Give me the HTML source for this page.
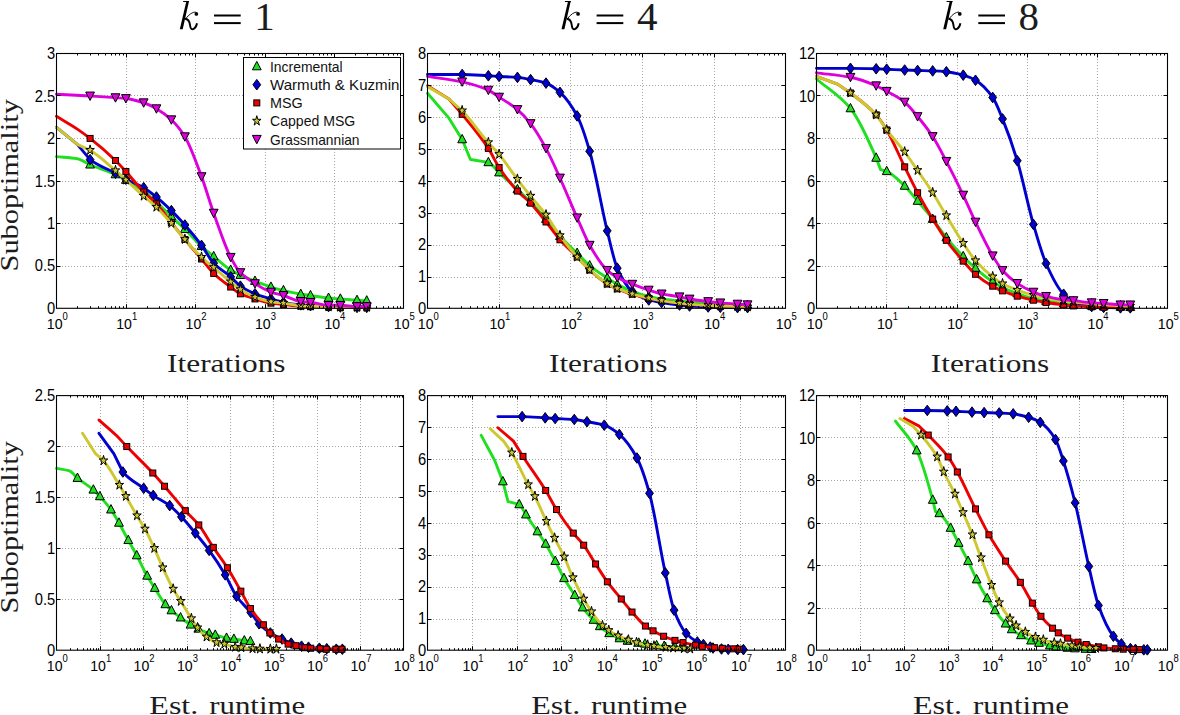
<!DOCTYPE html><html><head><meta charset="utf-8"><style>html,body{margin:0;padding:0;background:#fff;}svg{display:block;}</style></head><body>
<svg width="1180" height="715" viewBox="0 0 1180 715">
<rect width="1180" height="715" fill="#fff"/>
<path d="M126.50,53.00 V308.25 M195.50,53.00 V308.25 M265.50,53.00 V308.25 M334.50,53.00 V308.25 M56.00,266.50 H403.50 M56.00,223.50 H403.50 M56.00,181.50 H403.50 M56.00,138.50 H403.50 M56.00,95.50 H403.50" stroke="#a6a6a6" stroke-width="1" stroke-dasharray="1 2" fill="none"/>
<path d="M56.50,156.67 C63.44,157.38 70.38,157.57 77.32,158.80 C81.58,159.55 85.83,162.93 90.09,164.74 C98.56,168.34 107.02,170.65 115.49,174.51 C118.96,176.09 122.43,178.05 125.90,180.03 C131.82,183.39 137.74,186.74 143.67,191.06 C147.92,194.17 152.18,198.22 156.44,202.10 C161.41,206.64 166.38,211.80 171.36,216.54 C175.87,220.84 180.38,224.87 184.89,229.28 C190.44,234.70 195.99,241.18 201.55,246.26 C205.59,249.97 209.64,253.13 213.69,256.45 C219.36,261.10 225.03,266.52 230.69,270.04 C233.93,272.05 237.17,273.63 240.41,275.13 C245.27,277.38 250.13,279.18 254.98,281.08 C260.30,283.15 265.63,285.36 270.95,287.02 C275.11,288.32 279.27,289.40 283.44,290.42 C289.22,291.83 295.00,293.31 300.79,294.24 C304.03,294.76 307.27,295.07 310.50,295.51 C316.52,296.33 322.53,297.50 328.55,298.06 C332.48,298.43 336.41,298.61 340.35,298.91 C345.90,299.33 351.45,299.92 357.00,300.27 C360.24,300.47 363.48,300.61 366.72,300.78" stroke="#1ee01e" stroke-width="2.90" fill="none" stroke-linejoin="round" stroke-linecap="round"/>
<path d="M90.09,159.64 L94.49,168.04 L85.69,168.04 Z" stroke="#000" stroke-width="1" fill="#1ee01e"/><path d="M115.49,169.41 L119.89,177.81 L111.09,177.81 Z" stroke="#000" stroke-width="1" fill="#1ee01e"/><path d="M125.90,174.93 L130.30,183.33 L121.50,183.33 Z" stroke="#000" stroke-width="1" fill="#1ee01e"/><path d="M143.67,185.97 L148.07,194.37 L139.27,194.37 Z" stroke="#000" stroke-width="1" fill="#1ee01e"/><path d="M156.44,197.00 L160.84,205.40 L152.04,205.40 Z" stroke="#000" stroke-width="1" fill="#1ee01e"/><path d="M171.36,211.44 L175.76,219.84 L166.96,219.84 Z" stroke="#000" stroke-width="1" fill="#1ee01e"/><path d="M184.89,224.18 L189.29,232.58 L180.49,232.58 Z" stroke="#000" stroke-width="1" fill="#1ee01e"/><path d="M201.55,241.16 L205.95,249.56 L197.15,249.56 Z" stroke="#000" stroke-width="1" fill="#1ee01e"/><path d="M213.69,251.35 L218.09,259.75 L209.29,259.75 Z" stroke="#000" stroke-width="1" fill="#1ee01e"/><path d="M230.69,264.94 L235.09,273.34 L226.29,273.34 Z" stroke="#000" stroke-width="1" fill="#1ee01e"/><path d="M240.41,270.03 L244.81,278.43 L236.01,278.43 Z" stroke="#000" stroke-width="1" fill="#1ee01e"/><path d="M254.98,275.98 L259.38,284.38 L250.58,284.38 Z" stroke="#000" stroke-width="1" fill="#1ee01e"/><path d="M270.95,281.92 L275.35,290.32 L266.55,290.32 Z" stroke="#000" stroke-width="1" fill="#1ee01e"/><path d="M283.44,285.32 L287.84,293.72 L279.04,293.72 Z" stroke="#000" stroke-width="1" fill="#1ee01e"/><path d="M300.79,289.14 L305.19,297.54 L296.39,297.54 Z" stroke="#000" stroke-width="1" fill="#1ee01e"/><path d="M310.50,290.41 L314.90,298.81 L306.10,298.81 Z" stroke="#000" stroke-width="1" fill="#1ee01e"/><path d="M328.55,292.96 L332.95,301.36 L324.15,301.36 Z" stroke="#000" stroke-width="1" fill="#1ee01e"/><path d="M340.35,293.81 L344.75,302.21 L335.95,302.21 Z" stroke="#000" stroke-width="1" fill="#1ee01e"/><path d="M357.00,295.17 L361.40,303.57 L352.60,303.57 Z" stroke="#000" stroke-width="1" fill="#1ee01e"/><path d="M366.72,295.68 L371.12,304.08 L362.32,304.08 Z" stroke="#000" stroke-width="1" fill="#1ee01e"/>
<path d="M56.50,127.38 L77.32,144.36 L90.09,159.65 C98.56,166.18 107.02,168.53 115.49,173.23 C118.96,175.16 122.43,177.36 125.90,179.18 C131.82,182.28 137.74,184.20 143.67,187.67 C147.92,190.16 152.18,193.57 156.44,197.01 C161.41,201.03 166.38,205.70 171.36,210.60 C175.87,215.03 180.38,219.90 184.89,225.03 C190.44,231.34 195.99,237.97 201.55,245.41 C205.59,250.84 209.64,258.98 213.69,263.24 C219.36,269.21 225.03,271.84 230.69,276.83 C233.93,279.68 237.17,283.93 240.41,286.17 C245.27,289.53 250.13,291.88 254.98,293.81 C260.30,295.93 265.63,297.35 270.95,298.91 C275.11,300.13 279.27,301.50 283.44,302.31 C289.22,303.43 295.00,304.23 300.79,304.85 C304.03,305.20 307.27,305.50 310.50,305.70 C316.52,306.08 322.53,306.31 328.55,306.55 C332.48,306.71 336.41,306.86 340.35,306.98 C345.90,307.14 351.45,307.40 357.00,307.40 C360.24,307.40 363.48,307.40 366.72,307.40" stroke="#0000d0" stroke-width="2.90" fill="none" stroke-linejoin="round" stroke-linecap="round"/>
<path d="M90.09,154.35 L93.99,159.65 L90.09,164.95 L86.19,159.65 Z" stroke="#000" stroke-width="1" fill="#0000d0"/><path d="M115.49,167.93 L119.39,173.23 L115.49,178.53 L111.59,173.23 Z" stroke="#000" stroke-width="1" fill="#0000d0"/><path d="M125.90,173.88 L129.80,179.18 L125.90,184.48 L122.00,179.18 Z" stroke="#000" stroke-width="1" fill="#0000d0"/><path d="M143.67,182.37 L147.57,187.67 L143.67,192.97 L139.77,187.67 Z" stroke="#000" stroke-width="1" fill="#0000d0"/><path d="M156.44,191.71 L160.34,197.01 L156.44,202.31 L152.54,197.01 Z" stroke="#000" stroke-width="1" fill="#0000d0"/><path d="M171.36,205.30 L175.26,210.60 L171.36,215.90 L167.46,210.60 Z" stroke="#000" stroke-width="1" fill="#0000d0"/><path d="M184.89,219.73 L188.79,225.03 L184.89,230.33 L180.99,225.03 Z" stroke="#000" stroke-width="1" fill="#0000d0"/><path d="M201.55,240.11 L205.45,245.41 L201.55,250.71 L197.65,245.41 Z" stroke="#000" stroke-width="1" fill="#0000d0"/><path d="M213.69,257.94 L217.59,263.24 L213.69,268.54 L209.79,263.24 Z" stroke="#000" stroke-width="1" fill="#0000d0"/><path d="M230.69,271.53 L234.59,276.83 L230.69,282.13 L226.79,276.83 Z" stroke="#000" stroke-width="1" fill="#0000d0"/><path d="M240.41,280.87 L244.31,286.17 L240.41,291.47 L236.51,286.17 Z" stroke="#000" stroke-width="1" fill="#0000d0"/><path d="M254.98,288.51 L258.88,293.81 L254.98,299.11 L251.08,293.81 Z" stroke="#000" stroke-width="1" fill="#0000d0"/><path d="M270.95,293.61 L274.85,298.91 L270.95,304.21 L267.05,298.91 Z" stroke="#000" stroke-width="1" fill="#0000d0"/><path d="M283.44,297.01 L287.34,302.31 L283.44,307.61 L279.54,302.31 Z" stroke="#000" stroke-width="1" fill="#0000d0"/><path d="M300.79,299.55 L304.69,304.85 L300.79,310.15 L296.89,304.85 Z" stroke="#000" stroke-width="1" fill="#0000d0"/><path d="M310.50,300.40 L314.40,305.70 L310.50,311.00 L306.60,305.70 Z" stroke="#000" stroke-width="1" fill="#0000d0"/><path d="M328.55,301.25 L332.45,306.55 L328.55,311.85 L324.65,306.55 Z" stroke="#000" stroke-width="1" fill="#0000d0"/><path d="M340.35,301.68 L344.25,306.98 L340.35,312.28 L336.45,306.98 Z" stroke="#000" stroke-width="1" fill="#0000d0"/><path d="M357.00,302.10 L360.90,307.40 L357.00,312.70 L353.10,307.40 Z" stroke="#000" stroke-width="1" fill="#0000d0"/><path d="M366.72,302.10 L370.62,307.40 L366.72,312.70 L362.82,307.40 Z" stroke="#000" stroke-width="1" fill="#0000d0"/>
<path d="M56.50,116.34 C63.44,120.58 70.38,124.42 77.32,129.08 C81.58,131.93 85.83,135.07 90.09,138.42 C98.56,145.08 107.02,152.29 115.49,160.50 C118.96,163.86 122.43,167.72 125.90,171.53 C131.82,178.04 137.74,185.86 143.67,191.91 C147.92,196.26 152.18,199.27 156.44,203.80 C161.41,209.09 166.38,216.25 171.36,222.48 C175.87,228.14 180.38,233.99 184.89,239.47 C190.44,246.21 195.99,252.44 201.55,259.00 C205.59,263.78 209.64,269.52 213.69,273.43 C219.36,278.91 225.03,282.82 230.69,287.02 C233.93,289.42 237.17,292.27 240.41,293.81 C245.27,296.13 250.13,297.44 254.98,298.91 C260.30,300.52 265.63,302.38 270.95,303.15 C275.11,303.76 279.27,304.01 283.44,304.43 C289.22,305.01 295.00,305.79 300.79,306.13 C304.03,306.32 307.27,306.45 310.50,306.55 C316.52,306.74 322.53,306.80 328.55,306.98 C332.48,307.09 336.41,307.40 340.35,307.40 C345.90,307.40 351.45,307.40 357.00,307.40 C360.24,307.40 363.48,307.40 366.72,307.40" stroke="#ee0000" stroke-width="2.90" fill="none" stroke-linejoin="round" stroke-linecap="round"/>
<rect x="87.09" y="135.42" width="6.00" height="6.00" stroke="#000" stroke-width="1" fill="#ee0000"/><rect x="112.49" y="157.50" width="6.00" height="6.00" stroke="#000" stroke-width="1" fill="#ee0000"/><rect x="122.90" y="168.53" width="6.00" height="6.00" stroke="#000" stroke-width="1" fill="#ee0000"/><rect x="140.67" y="188.91" width="6.00" height="6.00" stroke="#000" stroke-width="1" fill="#ee0000"/><rect x="153.44" y="200.80" width="6.00" height="6.00" stroke="#000" stroke-width="1" fill="#ee0000"/><rect x="168.36" y="219.48" width="6.00" height="6.00" stroke="#000" stroke-width="1" fill="#ee0000"/><rect x="181.89" y="236.47" width="6.00" height="6.00" stroke="#000" stroke-width="1" fill="#ee0000"/><rect x="198.55" y="256.00" width="6.00" height="6.00" stroke="#000" stroke-width="1" fill="#ee0000"/><rect x="210.69" y="270.43" width="6.00" height="6.00" stroke="#000" stroke-width="1" fill="#ee0000"/><rect x="227.69" y="284.02" width="6.00" height="6.00" stroke="#000" stroke-width="1" fill="#ee0000"/><rect x="237.41" y="290.81" width="6.00" height="6.00" stroke="#000" stroke-width="1" fill="#ee0000"/><rect x="251.98" y="295.91" width="6.00" height="6.00" stroke="#000" stroke-width="1" fill="#ee0000"/><rect x="267.95" y="300.15" width="6.00" height="6.00" stroke="#000" stroke-width="1" fill="#ee0000"/><rect x="280.44" y="301.43" width="6.00" height="6.00" stroke="#000" stroke-width="1" fill="#ee0000"/><rect x="297.79" y="303.13" width="6.00" height="6.00" stroke="#000" stroke-width="1" fill="#ee0000"/><rect x="307.50" y="303.55" width="6.00" height="6.00" stroke="#000" stroke-width="1" fill="#ee0000"/><rect x="325.55" y="303.98" width="6.00" height="6.00" stroke="#000" stroke-width="1" fill="#ee0000"/><rect x="337.35" y="304.40" width="6.00" height="6.00" stroke="#000" stroke-width="1" fill="#ee0000"/><rect x="354.00" y="304.40" width="6.00" height="6.00" stroke="#000" stroke-width="1" fill="#ee0000"/><rect x="363.72" y="304.40" width="6.00" height="6.00" stroke="#000" stroke-width="1" fill="#ee0000"/>
<path d="M56.50,127.38 L77.32,144.36 L90.09,150.30 C98.56,155.15 107.02,163.46 115.49,170.68 C118.96,173.65 122.43,176.90 125.90,180.03 C131.82,185.37 137.74,190.92 143.67,196.16 C147.92,199.93 152.18,203.12 156.44,207.20 C161.41,211.96 166.38,217.69 171.36,223.33 C175.87,228.45 180.38,234.37 184.89,239.47 C190.44,245.74 195.99,252.11 201.55,257.30 C205.59,261.08 209.64,264.07 213.69,267.49 C219.36,272.27 225.03,277.31 230.69,281.93 C233.93,284.56 237.17,287.50 240.41,289.57 C245.27,292.67 250.13,295.38 254.98,297.21 C260.30,299.22 265.63,301.09 270.95,301.88 C275.11,302.50 279.27,302.66 283.44,303.15 C289.22,303.84 295.00,305.33 300.79,305.70 C304.03,305.91 307.27,305.98 310.50,306.13 C316.52,306.40 322.53,306.80 328.55,306.98 C332.48,307.09 336.41,307.18 340.35,307.23 C345.90,307.31 351.45,307.40 357.00,307.40 C360.24,307.40 363.48,307.40 366.72,307.40" stroke="#cdc830" stroke-width="2.90" fill="none" stroke-linejoin="round" stroke-linecap="round"/>
<polygon points="90.09,144.91 91.08,148.53 94.34,148.50 91.68,150.71 92.72,154.31 90.09,152.05 87.46,154.31 88.49,150.71 85.84,148.50 89.10,148.53" stroke="#000" stroke-width="1" fill="#cdc830"/><polygon points="115.49,165.28 116.48,168.91 119.74,168.88 117.08,171.09 118.12,174.69 115.49,172.43 112.86,174.69 113.90,171.09 111.24,168.88 114.50,168.91" stroke="#000" stroke-width="1" fill="#cdc830"/><polygon points="125.90,174.63 126.89,178.25 130.15,178.22 127.49,180.43 128.53,184.03 125.90,181.78 123.27,184.03 124.31,180.43 121.65,178.22 124.91,178.25" stroke="#000" stroke-width="1" fill="#cdc830"/><polygon points="143.67,190.76 144.65,194.38 147.92,194.35 145.26,196.56 146.29,200.17 143.67,197.91 141.04,200.17 142.07,196.56 139.41,194.35 142.68,194.38" stroke="#000" stroke-width="1" fill="#cdc830"/><polygon points="156.44,201.80 157.42,205.42 160.69,205.39 158.03,207.60 159.06,211.21 156.44,208.95 153.81,211.21 154.84,207.60 152.18,205.39 155.45,205.42" stroke="#000" stroke-width="1" fill="#cdc830"/><polygon points="171.36,217.93 172.34,221.56 175.61,221.53 172.95,223.74 173.99,227.34 171.36,225.08 168.73,227.34 169.76,223.74 167.10,221.53 170.37,221.56" stroke="#000" stroke-width="1" fill="#cdc830"/><polygon points="184.89,234.07 185.88,237.69 189.14,237.66 186.48,239.87 187.52,243.47 184.89,241.22 182.26,243.47 183.30,239.87 180.64,237.66 183.90,237.69" stroke="#000" stroke-width="1" fill="#cdc830"/><polygon points="201.55,251.90 202.53,255.52 205.80,255.49 203.14,257.70 204.17,261.31 201.55,259.05 198.92,261.31 199.95,257.70 197.29,255.49 200.56,255.52" stroke="#000" stroke-width="1" fill="#cdc830"/><polygon points="213.69,262.09 214.68,265.71 217.94,265.68 215.29,267.89 216.32,271.50 213.69,269.24 211.06,271.50 212.10,267.89 209.44,265.68 212.71,265.71" stroke="#000" stroke-width="1" fill="#cdc830"/><polygon points="230.69,276.53 231.68,280.15 234.95,280.12 232.29,282.33 233.32,285.93 230.69,283.68 228.07,285.93 229.10,282.33 226.44,280.12 229.71,280.15" stroke="#000" stroke-width="1" fill="#cdc830"/><polygon points="240.41,284.17 241.40,287.79 244.66,287.76 242.00,289.97 243.04,293.58 240.41,291.32 237.78,293.58 238.82,289.97 236.16,287.76 239.42,287.79" stroke="#000" stroke-width="1" fill="#cdc830"/><polygon points="254.98,291.81 255.97,295.43 259.24,295.40 256.58,297.61 257.61,301.22 254.98,298.96 252.36,301.22 253.39,297.61 250.73,295.40 254.00,295.43" stroke="#000" stroke-width="1" fill="#cdc830"/><polygon points="270.95,296.48 271.93,300.10 275.20,300.07 272.54,302.28 273.57,305.89 270.95,303.63 268.32,305.89 269.35,302.28 266.69,300.07 269.96,300.10" stroke="#000" stroke-width="1" fill="#cdc830"/><polygon points="283.44,297.75 284.42,301.38 287.69,301.35 285.03,303.56 286.07,307.16 283.44,304.90 280.81,307.16 281.84,303.56 279.18,301.35 282.45,301.38" stroke="#000" stroke-width="1" fill="#cdc830"/><polygon points="300.79,300.30 301.77,303.92 305.04,303.90 302.38,306.11 303.42,309.71 300.79,307.45 298.16,309.71 299.19,306.11 296.53,303.90 299.80,303.92" stroke="#000" stroke-width="1" fill="#cdc830"/><polygon points="310.50,300.73 311.49,304.35 314.76,304.32 312.10,306.53 313.13,310.13 310.50,307.88 307.88,310.13 308.91,306.53 306.25,304.32 309.52,304.35" stroke="#000" stroke-width="1" fill="#cdc830"/><polygon points="328.55,301.58 329.53,305.20 332.80,305.17 330.14,307.38 331.18,310.98 328.55,308.73 325.92,310.98 326.95,307.38 324.29,305.17 327.56,305.20" stroke="#000" stroke-width="1" fill="#cdc830"/><polygon points="340.35,301.83 341.33,305.45 344.60,305.42 341.94,307.63 342.97,311.24 340.35,308.98 337.72,311.24 338.75,307.63 336.09,305.42 339.36,305.45" stroke="#000" stroke-width="1" fill="#cdc830"/><polygon points="357.00,302.00 357.99,305.62 361.26,305.59 358.60,307.80 359.63,311.41 357.00,309.15 354.37,311.41 355.41,307.80 352.75,305.59 356.02,305.62" stroke="#000" stroke-width="1" fill="#cdc830"/><polygon points="366.72,302.00 367.70,305.62 370.97,305.59 368.31,307.80 369.35,311.41 366.72,309.15 364.09,311.41 365.12,307.80 362.46,305.59 365.73,305.62" stroke="#000" stroke-width="1" fill="#cdc830"/>
<path d="M56.50,94.26 C67.70,94.83 78.89,95.31 90.09,95.96 C98.56,96.45 107.02,97.03 115.49,97.66 C118.96,97.92 122.43,98.10 125.90,98.51 C131.82,99.20 137.74,100.85 143.67,102.75 C147.92,104.12 152.18,106.28 156.44,108.70 C161.41,111.52 166.38,115.09 171.36,119.73 C175.87,123.95 180.38,129.37 184.89,136.72 C190.44,145.77 195.99,161.73 201.55,176.63 C205.59,187.49 209.64,201.82 213.69,213.14 C219.36,229.00 225.03,246.44 230.69,257.30 C233.93,263.51 237.17,269.19 240.41,272.58 C245.27,277.67 250.13,280.58 254.98,283.62 C260.30,286.96 265.63,290.23 270.95,292.12 C275.11,293.59 279.27,294.26 283.44,295.51 C289.22,297.26 295.00,300.69 300.79,301.46 C304.03,301.88 307.27,301.95 310.50,302.31 C316.52,302.97 322.53,305.28 328.55,305.28 C332.48,305.28 336.41,305.28 340.35,305.28 C345.90,305.28 351.45,306.55 357.00,306.55 C360.24,306.55 363.48,306.55 366.72,306.55" stroke="#dd00dd" stroke-width="2.90" fill="none" stroke-linejoin="round" stroke-linecap="round"/>
<path d="M90.09,100.46 L94.49,92.06 L85.69,92.06 Z" stroke="#000" stroke-width="1" fill="#dd00dd"/><path d="M115.49,102.16 L119.89,93.76 L111.09,93.76 Z" stroke="#000" stroke-width="1" fill="#dd00dd"/><path d="M125.90,103.01 L130.30,94.61 L121.50,94.61 Z" stroke="#000" stroke-width="1" fill="#dd00dd"/><path d="M143.67,107.25 L148.07,98.85 L139.27,98.85 Z" stroke="#000" stroke-width="1" fill="#dd00dd"/><path d="M156.44,113.20 L160.84,104.80 L152.04,104.80 Z" stroke="#000" stroke-width="1" fill="#dd00dd"/><path d="M171.36,124.23 L175.76,115.83 L166.96,115.83 Z" stroke="#000" stroke-width="1" fill="#dd00dd"/><path d="M184.89,141.22 L189.29,132.82 L180.49,132.82 Z" stroke="#000" stroke-width="1" fill="#dd00dd"/><path d="M201.55,181.13 L205.95,172.73 L197.15,172.73 Z" stroke="#000" stroke-width="1" fill="#dd00dd"/><path d="M213.69,217.64 L218.09,209.24 L209.29,209.24 Z" stroke="#000" stroke-width="1" fill="#dd00dd"/><path d="M230.69,261.80 L235.09,253.40 L226.29,253.40 Z" stroke="#000" stroke-width="1" fill="#dd00dd"/><path d="M240.41,277.08 L244.81,268.69 L236.01,268.69 Z" stroke="#000" stroke-width="1" fill="#dd00dd"/><path d="M254.98,288.12 L259.38,279.72 L250.58,279.72 Z" stroke="#000" stroke-width="1" fill="#dd00dd"/><path d="M270.95,296.62 L275.35,288.22 L266.55,288.22 Z" stroke="#000" stroke-width="1" fill="#dd00dd"/><path d="M283.44,300.01 L287.84,291.61 L279.04,291.61 Z" stroke="#000" stroke-width="1" fill="#dd00dd"/><path d="M300.79,305.96 L305.19,297.56 L296.39,297.56 Z" stroke="#000" stroke-width="1" fill="#dd00dd"/><path d="M310.50,306.81 L314.90,298.41 L306.10,298.41 Z" stroke="#000" stroke-width="1" fill="#dd00dd"/><path d="M328.55,309.78 L332.95,301.38 L324.15,301.38 Z" stroke="#000" stroke-width="1" fill="#dd00dd"/><path d="M340.35,309.78 L344.75,301.38 L335.95,301.38 Z" stroke="#000" stroke-width="1" fill="#dd00dd"/><path d="M357.00,311.05 L361.40,302.65 L352.60,302.65 Z" stroke="#000" stroke-width="1" fill="#dd00dd"/><path d="M366.72,311.05 L371.12,302.65 L362.32,302.65 Z" stroke="#000" stroke-width="1" fill="#dd00dd"/>
<path d="M77.5,308.2 v-2 M77.5,53.5 v2 M90.5,308.2 v-2 M90.5,53.5 v2 M98.5,308.2 v-2 M98.5,53.5 v2 M105.5,308.2 v-2 M105.5,53.5 v2 M111.5,308.2 v-2 M111.5,53.5 v2 M115.5,308.2 v-2 M115.5,53.5 v2 M119.5,308.2 v-2 M119.5,53.5 v2 M123.5,308.2 v-2 M123.5,53.5 v2 M126.5,308.2 v-4 M126.5,53.5 v4 M147.5,308.2 v-2 M147.5,53.5 v2 M159.5,308.2 v-2 M159.5,53.5 v2 M168.5,308.2 v-2 M168.5,53.5 v2 M174.5,308.2 v-2 M174.5,53.5 v2 M180.5,308.2 v-2 M180.5,53.5 v2 M185.5,308.2 v-2 M185.5,53.5 v2 M189.5,308.2 v-2 M189.5,53.5 v2 M192.5,308.2 v-2 M192.5,53.5 v2 M195.5,308.2 v-4 M195.5,53.5 v4 M216.5,308.2 v-2 M216.5,53.5 v2 M228.5,308.2 v-2 M228.5,53.5 v2 M237.5,308.2 v-2 M237.5,53.5 v2 M244.5,308.2 v-2 M244.5,53.5 v2 M249.5,308.2 v-2 M249.5,53.5 v2 M254.5,308.2 v-2 M254.5,53.5 v2 M258.5,308.2 v-2 M258.5,53.5 v2 M262.5,308.2 v-2 M262.5,53.5 v2 M265.5,308.2 v-4 M265.5,53.5 v4 M286.5,308.2 v-2 M286.5,53.5 v2 M298.5,308.2 v-2 M298.5,53.5 v2 M306.5,308.2 v-2 M306.5,53.5 v2 M313.5,308.2 v-2 M313.5,53.5 v2 M319.5,308.2 v-2 M319.5,53.5 v2 M323.5,308.2 v-2 M323.5,53.5 v2 M327.5,308.2 v-2 M327.5,53.5 v2 M331.5,308.2 v-2 M331.5,53.5 v2 M334.5,308.2 v-4 M334.5,53.5 v4 M355.5,308.2 v-2 M355.5,53.5 v2 M367.5,308.2 v-2 M367.5,53.5 v2 M376.5,308.2 v-2 M376.5,53.5 v2 M383.5,308.2 v-2 M383.5,53.5 v2 M388.5,308.2 v-2 M388.5,53.5 v2 M393.5,308.2 v-2 M393.5,53.5 v2 M397.5,308.2 v-2 M397.5,53.5 v2 M400.5,308.2 v-2 M400.5,53.5 v2 M56.5,266.5 h4 M403.5,266.5 h-4 M56.5,223.5 h4 M403.5,223.5 h-4 M56.5,181.5 h4 M403.5,181.5 h-4 M56.5,138.5 h4 M403.5,138.5 h-4 M56.5,95.5 h4 M403.5,95.5 h-4" stroke="#000" stroke-width="1" fill="none"/>
<rect x="56.5" y="53.5" width="347.0" height="254.8" stroke="#000" stroke-width="1.1" fill="none"/>
<g font-family="Liberation Sans, sans-serif" font-size="15.6" fill="#000"><text transform="translate(55.30,313.95) scale(0.92,1)" text-anchor="end" font-size="16">0</text><text transform="translate(55.30,271.49) scale(0.92,1)" text-anchor="end" font-size="16">0.5</text><text transform="translate(55.30,229.03) scale(0.92,1)" text-anchor="end" font-size="16">1</text><text transform="translate(55.30,186.57) scale(0.92,1)" text-anchor="end" font-size="16">1.5</text><text transform="translate(55.30,144.12) scale(0.92,1)" text-anchor="end" font-size="16">2</text><text transform="translate(55.30,101.66) scale(0.92,1)" text-anchor="end" font-size="16">2.5</text><text transform="translate(55.30,59.20) scale(0.92,1)" text-anchor="end" font-size="16">3</text><text transform="translate(57.30,328.85) scale(0.93,1)" text-anchor="middle" font-size="15.2">10<tspan dy="-8.6" dx="0" font-size="10.2">0</tspan></text><text transform="translate(126.70,328.85) scale(0.93,1)" text-anchor="middle" font-size="15.2">10<tspan dy="-8.6" dx="0" font-size="10.2">1</tspan></text><text transform="translate(196.10,328.85) scale(0.93,1)" text-anchor="middle" font-size="15.2">10<tspan dy="-8.6" dx="0" font-size="10.2">2</tspan></text><text transform="translate(265.50,328.85) scale(0.93,1)" text-anchor="middle" font-size="15.2">10<tspan dy="-8.6" dx="0" font-size="10.2">3</tspan></text><text transform="translate(334.90,328.85) scale(0.93,1)" text-anchor="middle" font-size="15.2">10<tspan dy="-8.6" dx="0" font-size="10.2">4</tspan></text><text transform="translate(404.30,328.85) scale(0.93,1)" text-anchor="middle" font-size="15.2">10<tspan dy="-8.6" dx="0" font-size="10.2">5</tspan></text></g>
<path d="M499.50,53.00 V308.25 M570.50,53.00 V308.25 M642.50,53.00 V308.25 M714.50,53.00 V308.25 M427.00,277.50 H785.50 M427.00,245.50 H785.50 M427.00,213.50 H785.50 M427.00,181.50 H785.50 M427.00,149.50 H785.50 M427.00,117.50 H785.50 M427.00,85.50 H785.50" stroke="#a6a6a6" stroke-width="1" stroke-dasharray="1 2" fill="none"/>
<path d="M427.50,93.30 L448.98,118.14 L462.15,139.48 L470.46,159.54 L488.36,162.41 C491.94,163.45 495.52,169.25 499.10,172.60 C505.21,178.31 511.32,183.78 517.43,189.47 C521.82,193.57 526.21,197.41 530.60,201.89 C535.74,207.13 540.87,213.07 546.00,219.09 C550.65,224.54 555.31,231.18 559.96,236.28 C565.69,242.57 571.42,247.51 577.14,253.16 C581.32,257.28 585.50,262.10 589.67,265.58 C595.52,270.45 601.37,274.10 607.22,278.00 C610.56,280.23 613.90,282.55 617.24,284.37 C622.25,287.09 627.26,289.50 632.28,291.37 C637.77,293.42 643.25,295.16 648.74,296.47 C653.04,297.49 657.34,298.41 661.63,299.02 C667.60,299.86 673.57,300.33 679.53,300.93 C682.87,301.26 686.21,301.58 689.56,301.88 C695.76,302.44 701.97,303.08 708.17,303.47 C712.23,303.73 716.29,303.89 720.34,304.11 C726.07,304.42 731.80,304.84 737.53,305.07 C740.87,305.20 744.21,305.28 747.55,305.38" stroke="#1ee01e" stroke-width="2.90" fill="none" stroke-linejoin="round" stroke-linecap="round"/>
<path d="M462.15,134.38 L466.55,142.78 L457.75,142.78 Z" stroke="#000" stroke-width="1" fill="#1ee01e"/><path d="M488.36,157.31 L492.76,165.71 L483.96,165.71 Z" stroke="#000" stroke-width="1" fill="#1ee01e"/><path d="M499.10,167.50 L503.50,175.90 L494.70,175.90 Z" stroke="#000" stroke-width="1" fill="#1ee01e"/><path d="M517.43,184.37 L521.83,192.77 L513.03,192.77 Z" stroke="#000" stroke-width="1" fill="#1ee01e"/><path d="M530.60,196.79 L535.00,205.19 L526.20,205.19 Z" stroke="#000" stroke-width="1" fill="#1ee01e"/><path d="M546.00,213.99 L550.40,222.39 L541.60,222.39 Z" stroke="#000" stroke-width="1" fill="#1ee01e"/><path d="M559.96,231.18 L564.36,239.58 L555.56,239.58 Z" stroke="#000" stroke-width="1" fill="#1ee01e"/><path d="M577.14,248.06 L581.54,256.46 L572.74,256.46 Z" stroke="#000" stroke-width="1" fill="#1ee01e"/><path d="M589.67,260.48 L594.07,268.88 L585.27,268.88 Z" stroke="#000" stroke-width="1" fill="#1ee01e"/><path d="M607.22,272.90 L611.62,281.30 L602.82,281.30 Z" stroke="#000" stroke-width="1" fill="#1ee01e"/><path d="M617.24,279.27 L621.64,287.67 L612.84,287.67 Z" stroke="#000" stroke-width="1" fill="#1ee01e"/><path d="M632.28,286.27 L636.68,294.67 L627.88,294.67 Z" stroke="#000" stroke-width="1" fill="#1ee01e"/><path d="M648.74,291.37 L653.14,299.77 L644.34,299.77 Z" stroke="#000" stroke-width="1" fill="#1ee01e"/><path d="M661.63,293.92 L666.03,302.32 L657.23,302.32 Z" stroke="#000" stroke-width="1" fill="#1ee01e"/><path d="M679.53,295.83 L683.93,304.23 L675.13,304.23 Z" stroke="#000" stroke-width="1" fill="#1ee01e"/><path d="M689.56,296.78 L693.96,305.18 L685.16,305.18 Z" stroke="#000" stroke-width="1" fill="#1ee01e"/><path d="M708.17,298.37 L712.57,306.77 L703.77,306.77 Z" stroke="#000" stroke-width="1" fill="#1ee01e"/><path d="M720.34,299.01 L724.74,307.41 L715.94,307.41 Z" stroke="#000" stroke-width="1" fill="#1ee01e"/><path d="M737.53,299.97 L741.93,308.37 L733.13,308.37 Z" stroke="#000" stroke-width="1" fill="#1ee01e"/><path d="M747.55,300.28 L751.95,308.68 L743.15,308.68 Z" stroke="#000" stroke-width="1" fill="#1ee01e"/>
<path d="M427.50,74.52 C439.05,74.52 450.60,74.52 462.15,74.52 C470.89,74.52 479.62,75.32 488.36,75.79 C491.94,75.98 495.52,76.23 499.10,76.43 C505.21,76.77 511.32,76.88 517.43,77.38 C521.82,77.74 526.21,78.76 530.60,79.61 C535.74,80.60 540.87,81.36 546.00,83.11 C550.65,84.70 555.31,88.25 559.96,92.35 C565.69,97.40 571.42,105.15 577.14,115.91 C581.32,123.76 585.50,136.91 589.67,151.26 C595.52,171.34 601.37,207.19 607.22,230.87 C610.56,244.40 613.90,260.62 617.24,268.13 C622.25,279.38 627.26,287.43 632.28,291.37 C637.77,295.69 643.25,298.42 648.74,299.97 C653.04,301.18 657.34,301.80 661.63,302.52 C667.60,303.51 673.57,304.40 679.53,305.07 C682.87,305.44 686.21,305.79 689.56,306.02 C695.76,306.45 701.97,306.77 708.17,306.98 C712.23,307.11 716.29,307.21 720.34,307.29 C726.07,307.42 731.80,307.61 737.53,307.61 C740.87,307.61 744.21,307.61 747.55,307.61" stroke="#0000d0" stroke-width="2.90" fill="none" stroke-linejoin="round" stroke-linecap="round"/>
<path d="M462.15,69.22 L466.05,74.52 L462.15,79.82 L458.25,74.52 Z" stroke="#000" stroke-width="1" fill="#0000d0"/><path d="M488.36,70.49 L492.26,75.79 L488.36,81.09 L484.46,75.79 Z" stroke="#000" stroke-width="1" fill="#0000d0"/><path d="M499.10,71.13 L503.00,76.43 L499.10,81.73 L495.20,76.43 Z" stroke="#000" stroke-width="1" fill="#0000d0"/><path d="M517.43,72.08 L521.33,77.38 L517.43,82.68 L513.53,77.38 Z" stroke="#000" stroke-width="1" fill="#0000d0"/><path d="M530.60,74.31 L534.50,79.61 L530.60,84.91 L526.70,79.61 Z" stroke="#000" stroke-width="1" fill="#0000d0"/><path d="M546.00,77.81 L549.90,83.11 L546.00,88.41 L542.10,83.11 Z" stroke="#000" stroke-width="1" fill="#0000d0"/><path d="M559.96,87.05 L563.86,92.35 L559.96,97.65 L556.06,92.35 Z" stroke="#000" stroke-width="1" fill="#0000d0"/><path d="M577.14,110.61 L581.04,115.91 L577.14,121.21 L573.24,115.91 Z" stroke="#000" stroke-width="1" fill="#0000d0"/><path d="M589.67,145.96 L593.57,151.26 L589.67,156.56 L585.77,151.26 Z" stroke="#000" stroke-width="1" fill="#0000d0"/><path d="M607.22,225.57 L611.12,230.87 L607.22,236.17 L603.32,230.87 Z" stroke="#000" stroke-width="1" fill="#0000d0"/><path d="M617.24,262.83 L621.14,268.13 L617.24,273.43 L613.34,268.13 Z" stroke="#000" stroke-width="1" fill="#0000d0"/><path d="M632.28,286.07 L636.18,291.37 L632.28,296.67 L628.38,291.37 Z" stroke="#000" stroke-width="1" fill="#0000d0"/><path d="M648.74,294.67 L652.64,299.97 L648.74,305.27 L644.84,299.97 Z" stroke="#000" stroke-width="1" fill="#0000d0"/><path d="M661.63,297.22 L665.53,302.52 L661.63,307.82 L657.73,302.52 Z" stroke="#000" stroke-width="1" fill="#0000d0"/><path d="M679.53,299.77 L683.43,305.07 L679.53,310.37 L675.63,305.07 Z" stroke="#000" stroke-width="1" fill="#0000d0"/><path d="M689.56,300.72 L693.46,306.02 L689.56,311.32 L685.66,306.02 Z" stroke="#000" stroke-width="1" fill="#0000d0"/><path d="M708.17,301.68 L712.07,306.98 L708.17,312.28 L704.27,306.98 Z" stroke="#000" stroke-width="1" fill="#0000d0"/><path d="M720.34,301.99 L724.24,307.29 L720.34,312.59 L716.44,307.29 Z" stroke="#000" stroke-width="1" fill="#0000d0"/><path d="M737.53,302.31 L741.43,307.61 L737.53,312.91 L733.63,307.61 Z" stroke="#000" stroke-width="1" fill="#0000d0"/><path d="M747.55,302.31 L751.45,307.61 L747.55,312.91 L743.65,307.61 Z" stroke="#000" stroke-width="1" fill="#0000d0"/>
<path d="M427.50,85.66 L448.98,99.04 L462.15,114.32 C470.89,124.97 479.62,134.98 488.36,148.39 C491.94,153.89 495.52,162.08 499.10,167.50 C505.21,176.75 511.32,184.58 517.43,191.06 C521.82,195.73 526.21,198.58 530.60,203.17 C535.74,208.52 540.87,215.55 546.00,221.95 C550.65,227.76 555.31,234.54 559.96,239.79 C565.69,246.24 571.42,251.13 577.14,256.98 C581.32,261.25 585.50,266.23 589.67,270.04 C595.52,275.36 601.37,280.64 607.22,284.05 C610.56,286.00 613.90,287.44 617.24,288.83 C622.25,290.90 627.26,292.75 632.28,294.24 C637.77,295.87 643.25,297.26 648.74,298.38 C653.04,299.25 657.34,299.93 661.63,300.61 C667.60,301.54 673.57,302.36 679.53,303.15 C682.87,303.60 686.21,304.12 689.56,304.43 C695.76,305.00 701.97,305.34 708.17,305.70 C712.23,305.94 716.29,306.19 720.34,306.34 C726.07,306.55 731.80,306.65 737.53,306.82 C740.87,306.92 744.21,307.03 747.55,307.14" stroke="#ee0000" stroke-width="2.90" fill="none" stroke-linejoin="round" stroke-linecap="round"/>
<rect x="459.15" y="111.32" width="6.00" height="6.00" stroke="#000" stroke-width="1" fill="#ee0000"/><rect x="485.36" y="145.39" width="6.00" height="6.00" stroke="#000" stroke-width="1" fill="#ee0000"/><rect x="496.10" y="164.50" width="6.00" height="6.00" stroke="#000" stroke-width="1" fill="#ee0000"/><rect x="514.43" y="188.06" width="6.00" height="6.00" stroke="#000" stroke-width="1" fill="#ee0000"/><rect x="527.60" y="200.17" width="6.00" height="6.00" stroke="#000" stroke-width="1" fill="#ee0000"/><rect x="543.00" y="218.95" width="6.00" height="6.00" stroke="#000" stroke-width="1" fill="#ee0000"/><rect x="556.96" y="236.79" width="6.00" height="6.00" stroke="#000" stroke-width="1" fill="#ee0000"/><rect x="574.14" y="253.98" width="6.00" height="6.00" stroke="#000" stroke-width="1" fill="#ee0000"/><rect x="586.67" y="267.04" width="6.00" height="6.00" stroke="#000" stroke-width="1" fill="#ee0000"/><rect x="604.22" y="281.05" width="6.00" height="6.00" stroke="#000" stroke-width="1" fill="#ee0000"/><rect x="614.24" y="285.83" width="6.00" height="6.00" stroke="#000" stroke-width="1" fill="#ee0000"/><rect x="629.28" y="291.24" width="6.00" height="6.00" stroke="#000" stroke-width="1" fill="#ee0000"/><rect x="645.74" y="295.38" width="6.00" height="6.00" stroke="#000" stroke-width="1" fill="#ee0000"/><rect x="658.63" y="297.61" width="6.00" height="6.00" stroke="#000" stroke-width="1" fill="#ee0000"/><rect x="676.53" y="300.15" width="6.00" height="6.00" stroke="#000" stroke-width="1" fill="#ee0000"/><rect x="686.56" y="301.43" width="6.00" height="6.00" stroke="#000" stroke-width="1" fill="#ee0000"/><rect x="705.17" y="302.70" width="6.00" height="6.00" stroke="#000" stroke-width="1" fill="#ee0000"/><rect x="717.34" y="303.34" width="6.00" height="6.00" stroke="#000" stroke-width="1" fill="#ee0000"/><rect x="734.53" y="303.82" width="6.00" height="6.00" stroke="#000" stroke-width="1" fill="#ee0000"/><rect x="744.55" y="304.14" width="6.00" height="6.00" stroke="#000" stroke-width="1" fill="#ee0000"/>
<path d="M427.50,86.62 L448.98,99.04 L462.15,110.82 C470.89,119.67 479.62,132.66 488.36,142.66 C491.94,146.76 495.52,150.14 499.10,154.44 C505.21,161.79 511.32,171.25 517.43,179.28 C521.82,185.06 526.21,190.67 530.60,196.16 C535.74,202.58 540.87,208.07 546.00,214.95 C550.65,221.19 555.31,229.34 559.96,235.65 C565.69,243.41 571.42,250.61 577.14,256.98 C581.32,261.63 585.50,265.96 589.67,269.72 C595.52,274.99 601.37,280.32 607.22,283.73 C610.56,285.68 613.90,287.12 617.24,288.51 C622.25,290.58 627.26,292.43 632.28,293.92 C637.77,295.55 643.25,296.85 648.74,298.06 C653.04,299.01 657.34,299.89 661.63,300.61 C667.60,301.60 673.57,302.49 679.53,303.15 C682.87,303.53 686.21,303.84 689.56,304.11 C695.76,304.61 701.97,305.02 708.17,305.38 C712.23,305.62 716.29,305.84 720.34,306.02 C726.07,306.27 731.80,306.46 737.53,306.66 C740.87,306.77 744.21,306.87 747.55,306.98" stroke="#cdc830" stroke-width="2.90" fill="none" stroke-linejoin="round" stroke-linecap="round"/>
<polygon points="462.15,105.42 463.14,109.04 466.41,109.01 463.75,111.22 464.78,114.83 462.15,112.57 459.53,114.83 460.56,111.22 457.90,109.01 461.17,109.04" stroke="#000" stroke-width="1" fill="#cdc830"/><polygon points="488.36,137.26 489.35,140.88 492.61,140.86 489.95,143.07 490.99,146.67 488.36,144.41 485.73,146.67 486.77,143.07 484.11,140.86 487.37,140.88" stroke="#000" stroke-width="1" fill="#cdc830"/><polygon points="499.10,149.04 500.09,152.67 503.35,152.64 500.69,154.85 501.73,158.45 499.10,156.19 496.47,158.45 497.51,154.85 494.85,152.64 498.11,152.67" stroke="#000" stroke-width="1" fill="#cdc830"/><polygon points="517.43,173.88 518.42,177.51 521.68,177.48 519.02,179.69 520.06,183.29 517.43,181.03 514.80,183.29 515.83,179.69 513.18,177.48 516.44,177.51" stroke="#000" stroke-width="1" fill="#cdc830"/><polygon points="530.60,190.76 531.59,194.38 534.86,194.35 532.20,196.56 533.23,200.17 530.60,197.91 527.98,200.17 529.01,196.56 526.35,194.35 529.62,194.38" stroke="#000" stroke-width="1" fill="#cdc830"/><polygon points="546.00,209.55 546.98,213.17 550.25,213.14 547.59,215.35 548.63,218.95 546.00,216.70 543.37,218.95 544.40,215.35 541.74,213.14 545.01,213.17" stroke="#000" stroke-width="1" fill="#cdc830"/><polygon points="559.96,230.25 560.95,233.87 564.21,233.84 561.55,236.05 562.59,239.65 559.96,237.40 557.33,239.65 558.37,236.05 555.71,233.84 558.97,233.87" stroke="#000" stroke-width="1" fill="#cdc830"/><polygon points="577.14,251.58 578.13,255.20 581.40,255.17 578.74,257.38 579.77,260.99 577.14,258.73 574.52,260.99 575.55,257.38 572.89,255.17 576.16,255.20" stroke="#000" stroke-width="1" fill="#cdc830"/><polygon points="589.67,264.32 590.66,267.94 593.93,267.91 591.27,270.12 592.30,273.73 589.67,271.47 587.05,273.73 588.08,270.12 585.42,267.91 588.69,267.94" stroke="#000" stroke-width="1" fill="#cdc830"/><polygon points="607.22,278.33 608.20,281.95 611.47,281.92 608.81,284.13 609.84,287.74 607.22,285.48 604.59,287.74 605.62,284.13 602.96,281.92 606.23,281.95" stroke="#000" stroke-width="1" fill="#cdc830"/><polygon points="617.24,283.11 618.23,286.73 621.49,286.70 618.83,288.91 619.87,292.51 617.24,290.26 614.61,292.51 615.65,288.91 612.99,286.70 616.25,286.73" stroke="#000" stroke-width="1" fill="#cdc830"/><polygon points="632.28,288.52 633.26,292.14 636.53,292.11 633.87,294.32 634.90,297.93 632.28,295.67 629.65,297.93 630.68,294.32 628.02,292.11 631.29,292.14" stroke="#000" stroke-width="1" fill="#cdc830"/><polygon points="648.74,292.66 649.73,296.28 653.00,296.25 650.34,298.46 651.37,302.07 648.74,299.81 646.12,302.07 647.15,298.46 644.49,296.25 647.76,296.28" stroke="#000" stroke-width="1" fill="#cdc830"/><polygon points="661.63,295.21 662.62,298.83 665.89,298.80 663.23,301.01 664.26,304.61 661.63,302.36 659.00,304.61 660.04,301.01 657.38,298.80 660.65,298.83" stroke="#000" stroke-width="1" fill="#cdc830"/><polygon points="679.53,297.75 680.52,301.38 683.79,301.35 681.13,303.56 682.16,307.16 679.53,304.90 676.90,307.16 677.94,303.56 675.28,301.35 678.55,301.38" stroke="#000" stroke-width="1" fill="#cdc830"/><polygon points="689.56,298.71 690.54,302.33 693.81,302.30 691.15,304.51 692.18,308.12 689.56,305.86 686.93,308.12 687.96,304.51 685.30,302.30 688.57,302.33" stroke="#000" stroke-width="1" fill="#cdc830"/><polygon points="708.17,299.98 709.16,303.61 712.43,303.58 709.77,305.79 710.80,309.39 708.17,307.13 705.54,309.39 706.58,305.79 703.92,303.58 707.19,303.61" stroke="#000" stroke-width="1" fill="#cdc830"/><polygon points="720.34,300.62 721.33,304.24 724.60,304.21 721.94,306.42 722.97,310.03 720.34,307.77 717.72,310.03 718.75,306.42 716.09,304.21 719.36,304.24" stroke="#000" stroke-width="1" fill="#cdc830"/><polygon points="737.53,301.26 738.51,304.88 741.78,304.85 739.12,307.06 740.16,310.66 737.53,308.41 734.90,310.66 735.93,307.06 733.27,304.85 736.54,304.88" stroke="#000" stroke-width="1" fill="#cdc830"/><polygon points="747.55,301.58 748.54,305.20 751.81,305.17 749.15,307.38 750.18,310.98 747.55,308.73 744.92,310.98 745.96,307.38 743.30,305.17 746.57,305.20" stroke="#000" stroke-width="1" fill="#cdc830"/>
<path d="M427.50,76.43 C439.05,78.23 450.60,79.39 462.15,81.84 C470.89,83.70 479.62,86.21 488.36,90.12 C491.94,91.72 495.52,94.75 499.10,97.13 C505.21,101.18 511.32,104.43 517.43,109.54 C521.82,113.22 526.21,117.96 530.60,123.56 C535.74,130.10 540.87,138.97 546.00,148.39 C550.65,156.94 555.31,167.72 559.96,178.01 C565.69,190.67 571.42,204.95 577.14,217.81 C581.32,227.19 585.50,237.88 589.67,245.20 C595.52,255.44 601.37,265.03 607.22,270.36 C610.56,273.40 613.90,275.49 617.24,277.36 C622.25,280.16 627.26,282.20 632.28,284.21 C637.77,286.41 643.25,288.33 648.74,290.10 C653.04,291.49 657.34,293.01 661.63,293.92 C667.60,295.18 673.57,295.66 679.53,296.79 C682.87,297.42 686.21,298.44 689.56,299.02 C695.76,300.09 701.97,300.83 708.17,301.56 C712.23,302.04 716.29,302.48 720.34,302.84 C726.07,303.34 731.80,303.72 737.53,304.11 C740.87,304.34 744.21,304.53 747.55,304.75" stroke="#dd00dd" stroke-width="2.90" fill="none" stroke-linejoin="round" stroke-linecap="round"/>
<path d="M462.15,86.34 L466.55,77.94 L457.75,77.94 Z" stroke="#000" stroke-width="1" fill="#dd00dd"/><path d="M488.36,94.62 L492.76,86.22 L483.96,86.22 Z" stroke="#000" stroke-width="1" fill="#dd00dd"/><path d="M499.10,101.63 L503.50,93.23 L494.70,93.23 Z" stroke="#000" stroke-width="1" fill="#dd00dd"/><path d="M517.43,114.04 L521.83,105.64 L513.03,105.64 Z" stroke="#000" stroke-width="1" fill="#dd00dd"/><path d="M530.60,128.06 L535.00,119.66 L526.20,119.66 Z" stroke="#000" stroke-width="1" fill="#dd00dd"/><path d="M546.00,152.89 L550.40,144.49 L541.60,144.49 Z" stroke="#000" stroke-width="1" fill="#dd00dd"/><path d="M559.96,182.51 L564.36,174.11 L555.56,174.11 Z" stroke="#000" stroke-width="1" fill="#dd00dd"/><path d="M577.14,222.31 L581.54,213.91 L572.74,213.91 Z" stroke="#000" stroke-width="1" fill="#dd00dd"/><path d="M589.67,249.70 L594.07,241.30 L585.27,241.30 Z" stroke="#000" stroke-width="1" fill="#dd00dd"/><path d="M607.22,274.86 L611.62,266.46 L602.82,266.46 Z" stroke="#000" stroke-width="1" fill="#dd00dd"/><path d="M617.24,281.86 L621.64,273.46 L612.84,273.46 Z" stroke="#000" stroke-width="1" fill="#dd00dd"/><path d="M632.28,288.71 L636.68,280.31 L627.88,280.31 Z" stroke="#000" stroke-width="1" fill="#dd00dd"/><path d="M648.74,294.60 L653.14,286.20 L644.34,286.20 Z" stroke="#000" stroke-width="1" fill="#dd00dd"/><path d="M661.63,298.42 L666.03,290.02 L657.23,290.02 Z" stroke="#000" stroke-width="1" fill="#dd00dd"/><path d="M679.53,301.29 L683.93,292.89 L675.13,292.89 Z" stroke="#000" stroke-width="1" fill="#dd00dd"/><path d="M689.56,303.52 L693.96,295.12 L685.16,295.12 Z" stroke="#000" stroke-width="1" fill="#dd00dd"/><path d="M708.17,306.06 L712.57,297.66 L703.77,297.66 Z" stroke="#000" stroke-width="1" fill="#dd00dd"/><path d="M720.34,307.34 L724.74,298.94 L715.94,298.94 Z" stroke="#000" stroke-width="1" fill="#dd00dd"/><path d="M737.53,308.61 L741.93,300.21 L733.13,300.21 Z" stroke="#000" stroke-width="1" fill="#dd00dd"/><path d="M747.55,309.25 L751.95,300.85 L743.15,300.85 Z" stroke="#000" stroke-width="1" fill="#dd00dd"/>
<path d="M449.5,308.2 v-2 M449.5,53.5 v2 M461.5,308.2 v-2 M461.5,53.5 v2 M470.5,308.2 v-2 M470.5,53.5 v2 M477.5,308.2 v-2 M477.5,53.5 v2 M483.5,308.2 v-2 M483.5,53.5 v2 M488.5,308.2 v-2 M488.5,53.5 v2 M492.5,308.2 v-2 M492.5,53.5 v2 M496.5,308.2 v-2 M496.5,53.5 v2 M499.5,308.2 v-4 M499.5,53.5 v4 M520.5,308.2 v-2 M520.5,53.5 v2 M533.5,308.2 v-2 M533.5,53.5 v2 M542.5,308.2 v-2 M542.5,53.5 v2 M549.5,308.2 v-2 M549.5,53.5 v2 M555.5,308.2 v-2 M555.5,53.5 v2 M559.5,308.2 v-2 M559.5,53.5 v2 M563.5,308.2 v-2 M563.5,53.5 v2 M567.5,308.2 v-2 M567.5,53.5 v2 M570.5,308.2 v-4 M570.5,53.5 v4 M592.5,308.2 v-2 M592.5,53.5 v2 M605.5,308.2 v-2 M605.5,53.5 v2 M614.5,308.2 v-2 M614.5,53.5 v2 M620.5,308.2 v-2 M620.5,53.5 v2 M626.5,308.2 v-2 M626.5,53.5 v2 M631.5,308.2 v-2 M631.5,53.5 v2 M635.5,308.2 v-2 M635.5,53.5 v2 M639.5,308.2 v-2 M639.5,53.5 v2 M642.5,308.2 v-4 M642.5,53.5 v4 M664.5,308.2 v-2 M664.5,53.5 v2 M676.5,308.2 v-2 M676.5,53.5 v2 M685.5,308.2 v-2 M685.5,53.5 v2 M692.5,308.2 v-2 M692.5,53.5 v2 M698.5,308.2 v-2 M698.5,53.5 v2 M703.5,308.2 v-2 M703.5,53.5 v2 M707.5,308.2 v-2 M707.5,53.5 v2 M710.5,308.2 v-2 M710.5,53.5 v2 M714.5,308.2 v-4 M714.5,53.5 v4 M735.5,308.2 v-2 M735.5,53.5 v2 M748.5,308.2 v-2 M748.5,53.5 v2 M757.5,308.2 v-2 M757.5,53.5 v2 M764.5,308.2 v-2 M764.5,53.5 v2 M769.5,308.2 v-2 M769.5,53.5 v2 M774.5,308.2 v-2 M774.5,53.5 v2 M778.5,308.2 v-2 M778.5,53.5 v2 M782.5,308.2 v-2 M782.5,53.5 v2 M427.5,277.5 h4 M785.5,277.5 h-4 M427.5,245.5 h4 M785.5,245.5 h-4 M427.5,213.5 h4 M785.5,213.5 h-4 M427.5,181.5 h4 M785.5,181.5 h-4 M427.5,149.5 h4 M785.5,149.5 h-4 M427.5,117.5 h4 M785.5,117.5 h-4 M427.5,85.5 h4 M785.5,85.5 h-4" stroke="#000" stroke-width="1" fill="none"/>
<rect x="427.5" y="53.5" width="358.0" height="254.8" stroke="#000" stroke-width="1.1" fill="none"/>
<g font-family="Liberation Sans, sans-serif" font-size="15.6" fill="#000"><text transform="translate(426.30,313.95) scale(0.92,1)" text-anchor="end" font-size="16">0</text><text transform="translate(426.30,282.11) scale(0.92,1)" text-anchor="end" font-size="16">1</text><text transform="translate(426.30,250.26) scale(0.92,1)" text-anchor="end" font-size="16">2</text><text transform="translate(426.30,218.42) scale(0.92,1)" text-anchor="end" font-size="16">3</text><text transform="translate(426.30,186.57) scale(0.92,1)" text-anchor="end" font-size="16">4</text><text transform="translate(426.30,154.73) scale(0.92,1)" text-anchor="end" font-size="16">5</text><text transform="translate(426.30,122.89) scale(0.92,1)" text-anchor="end" font-size="16">6</text><text transform="translate(426.30,91.04) scale(0.92,1)" text-anchor="end" font-size="16">7</text><text transform="translate(426.30,59.20) scale(0.92,1)" text-anchor="end" font-size="16">8</text><text transform="translate(428.30,328.85) scale(0.93,1)" text-anchor="middle" font-size="15.2">10<tspan dy="-8.6" dx="0" font-size="10.2">0</tspan></text><text transform="translate(499.90,328.85) scale(0.93,1)" text-anchor="middle" font-size="15.2">10<tspan dy="-8.6" dx="0" font-size="10.2">1</tspan></text><text transform="translate(571.50,328.85) scale(0.93,1)" text-anchor="middle" font-size="15.2">10<tspan dy="-8.6" dx="0" font-size="10.2">2</tspan></text><text transform="translate(643.10,328.85) scale(0.93,1)" text-anchor="middle" font-size="15.2">10<tspan dy="-8.6" dx="0" font-size="10.2">3</tspan></text><text transform="translate(714.70,328.85) scale(0.93,1)" text-anchor="middle" font-size="15.2">10<tspan dy="-8.6" dx="0" font-size="10.2">4</tspan></text><text transform="translate(786.30,328.85) scale(0.93,1)" text-anchor="middle" font-size="15.2">10<tspan dy="-8.6" dx="0" font-size="10.2">5</tspan></text></g>
<path d="M886.50,53.00 V308.25 M957.50,53.00 V308.25 M1027.50,53.00 V308.25 M1097.50,53.00 V308.25 M816.00,266.50 H1167.50 M816.00,223.50 H1167.50 M816.00,181.50 H1167.50 M816.00,138.50 H1167.50 M816.00,95.50 H1167.50" stroke="#a6a6a6" stroke-width="1" stroke-dasharray="1 2" fill="none"/>
<path d="M816.50,78.97 C827.83,88.81 839.15,94.69 850.48,108.48 C859.04,118.92 867.61,138.15 876.17,157.95 L880.59,169.62 L886.70,171.32 C892.69,173.62 898.68,180.16 904.67,185.97 C908.98,190.14 913.28,195.96 917.59,201.04 C922.62,206.98 927.65,212.70 932.68,219.09 C937.24,224.88 941.81,231.95 946.37,237.56 C951.99,244.46 957.60,250.64 963.22,256.45 C967.31,260.69 971.41,264.79 975.50,268.34 C981.24,273.31 986.97,277.94 992.70,281.71 C995.98,283.87 999.25,285.86 1002.53,287.45 C1007.44,289.82 1012.36,291.61 1017.27,293.39 C1022.65,295.34 1028.04,297.44 1033.42,298.70 C1037.63,299.68 1041.84,300.34 1046.05,301.03 C1051.90,301.99 1057.75,302.78 1063.60,303.58 C1066.88,304.03 1070.16,304.58 1073.43,304.85 C1079.52,305.36 1085.60,305.58 1091.68,305.91 C1095.66,306.14 1099.64,306.41 1103.62,306.55 C1109.23,306.75 1114.85,306.85 1120.47,306.98 C1123.74,307.05 1127.02,307.12 1130.29,307.19" stroke="#1ee01e" stroke-width="2.90" fill="none" stroke-linejoin="round" stroke-linecap="round"/>
<path d="M850.48,103.38 L854.88,111.78 L846.08,111.78 Z" stroke="#000" stroke-width="1" fill="#1ee01e"/><path d="M876.17,152.85 L880.57,161.25 L871.77,161.25 Z" stroke="#000" stroke-width="1" fill="#1ee01e"/><path d="M886.70,166.22 L891.10,174.62 L882.30,174.62 Z" stroke="#000" stroke-width="1" fill="#1ee01e"/><path d="M904.67,180.87 L909.07,189.27 L900.27,189.27 Z" stroke="#000" stroke-width="1" fill="#1ee01e"/><path d="M917.59,195.94 L921.99,204.34 L913.19,204.34 Z" stroke="#000" stroke-width="1" fill="#1ee01e"/><path d="M932.68,213.99 L937.08,222.39 L928.28,222.39 Z" stroke="#000" stroke-width="1" fill="#1ee01e"/><path d="M946.37,232.46 L950.77,240.86 L941.97,240.86 Z" stroke="#000" stroke-width="1" fill="#1ee01e"/><path d="M963.22,251.35 L967.62,259.75 L958.82,259.75 Z" stroke="#000" stroke-width="1" fill="#1ee01e"/><path d="M975.50,263.24 L979.90,271.64 L971.10,271.64 Z" stroke="#000" stroke-width="1" fill="#1ee01e"/><path d="M992.70,276.61 L997.10,285.01 L988.30,285.01 Z" stroke="#000" stroke-width="1" fill="#1ee01e"/><path d="M1002.53,282.35 L1006.93,290.75 L998.13,290.75 Z" stroke="#000" stroke-width="1" fill="#1ee01e"/><path d="M1017.27,288.29 L1021.67,296.69 L1012.87,296.69 Z" stroke="#000" stroke-width="1" fill="#1ee01e"/><path d="M1033.42,293.60 L1037.82,302.00 L1029.02,302.00 Z" stroke="#000" stroke-width="1" fill="#1ee01e"/><path d="M1046.05,295.93 L1050.45,304.33 L1041.65,304.33 Z" stroke="#000" stroke-width="1" fill="#1ee01e"/><path d="M1063.60,298.48 L1068.00,306.88 L1059.20,306.88 Z" stroke="#000" stroke-width="1" fill="#1ee01e"/><path d="M1073.43,299.75 L1077.83,308.15 L1069.03,308.15 Z" stroke="#000" stroke-width="1" fill="#1ee01e"/><path d="M1091.68,300.81 L1096.08,309.21 L1087.28,309.21 Z" stroke="#000" stroke-width="1" fill="#1ee01e"/><path d="M1103.62,301.45 L1108.02,309.85 L1099.22,309.85 Z" stroke="#000" stroke-width="1" fill="#1ee01e"/><path d="M1120.47,301.88 L1124.87,310.28 L1116.07,310.28 Z" stroke="#000" stroke-width="1" fill="#1ee01e"/><path d="M1130.29,302.09 L1134.69,310.49 L1125.89,310.49 Z" stroke="#000" stroke-width="1" fill="#1ee01e"/>
<path d="M816.50,68.36 C827.83,68.36 839.15,68.36 850.48,68.36 C859.04,68.36 867.61,68.57 876.17,68.78 C879.68,68.87 883.19,69.06 886.70,69.21 C892.69,69.47 898.68,69.83 904.67,70.06 C908.98,70.22 913.28,70.35 917.59,70.48 C922.62,70.64 927.65,70.71 932.68,70.91 C937.24,71.09 941.81,71.33 946.37,71.76 C951.99,72.28 957.60,73.60 963.22,75.15 C967.31,76.29 971.41,77.90 975.50,80.25 C981.24,83.53 986.97,89.31 992.70,97.44 C995.98,102.09 999.25,110.88 1002.53,118.89 C1007.44,130.90 1012.36,144.53 1017.27,160.71 C1022.65,178.43 1028.04,205.83 1033.42,224.39 C1037.63,238.92 1041.84,253.89 1046.05,263.46 C1051.90,276.75 1057.75,288.16 1063.60,294.24 C1066.88,297.65 1070.16,300.55 1073.43,301.88 C1079.52,304.35 1085.60,305.90 1091.68,306.55 C1095.66,306.98 1099.64,307.25 1103.62,307.40 C1109.23,307.62 1114.85,307.83 1120.47,307.83 C1123.74,307.83 1127.02,307.83 1130.29,307.83" stroke="#0000d0" stroke-width="2.90" fill="none" stroke-linejoin="round" stroke-linecap="round"/>
<path d="M850.48,63.06 L854.38,68.36 L850.48,73.66 L846.58,68.36 Z" stroke="#000" stroke-width="1" fill="#0000d0"/><path d="M876.17,63.48 L880.07,68.78 L876.17,74.08 L872.27,68.78 Z" stroke="#000" stroke-width="1" fill="#0000d0"/><path d="M886.70,63.91 L890.60,69.21 L886.70,74.51 L882.80,69.21 Z" stroke="#000" stroke-width="1" fill="#0000d0"/><path d="M904.67,64.76 L908.57,70.06 L904.67,75.36 L900.77,70.06 Z" stroke="#000" stroke-width="1" fill="#0000d0"/><path d="M917.59,65.18 L921.49,70.48 L917.59,75.78 L913.69,70.48 Z" stroke="#000" stroke-width="1" fill="#0000d0"/><path d="M932.68,65.61 L936.58,70.91 L932.68,76.21 L928.78,70.91 Z" stroke="#000" stroke-width="1" fill="#0000d0"/><path d="M946.37,66.46 L950.27,71.76 L946.37,77.06 L942.47,71.76 Z" stroke="#000" stroke-width="1" fill="#0000d0"/><path d="M963.22,69.85 L967.12,75.15 L963.22,80.45 L959.32,75.15 Z" stroke="#000" stroke-width="1" fill="#0000d0"/><path d="M975.50,74.95 L979.40,80.25 L975.50,85.55 L971.60,80.25 Z" stroke="#000" stroke-width="1" fill="#0000d0"/><path d="M992.70,92.14 L996.60,97.44 L992.70,102.74 L988.80,97.44 Z" stroke="#000" stroke-width="1" fill="#0000d0"/><path d="M1002.53,113.59 L1006.43,118.89 L1002.53,124.19 L998.63,118.89 Z" stroke="#000" stroke-width="1" fill="#0000d0"/><path d="M1017.27,155.41 L1021.17,160.71 L1017.27,166.01 L1013.37,160.71 Z" stroke="#000" stroke-width="1" fill="#0000d0"/><path d="M1033.42,219.09 L1037.32,224.39 L1033.42,229.69 L1029.52,224.39 Z" stroke="#000" stroke-width="1" fill="#0000d0"/><path d="M1046.05,258.16 L1049.95,263.46 L1046.05,268.76 L1042.15,263.46 Z" stroke="#000" stroke-width="1" fill="#0000d0"/><path d="M1063.60,288.94 L1067.50,294.24 L1063.60,299.54 L1059.70,294.24 Z" stroke="#000" stroke-width="1" fill="#0000d0"/><path d="M1073.43,296.58 L1077.33,301.88 L1073.43,307.18 L1069.53,301.88 Z" stroke="#000" stroke-width="1" fill="#0000d0"/><path d="M1091.68,301.25 L1095.58,306.55 L1091.68,311.85 L1087.78,306.55 Z" stroke="#000" stroke-width="1" fill="#0000d0"/><path d="M1103.62,302.10 L1107.52,307.40 L1103.62,312.70 L1099.72,307.40 Z" stroke="#000" stroke-width="1" fill="#0000d0"/><path d="M1120.47,302.53 L1124.37,307.83 L1120.47,313.13 L1116.57,307.83 Z" stroke="#000" stroke-width="1" fill="#0000d0"/><path d="M1130.29,302.53 L1134.19,307.83 L1130.29,313.13 L1126.39,307.83 Z" stroke="#000" stroke-width="1" fill="#0000d0"/>
<path d="M816.50,76.43 L837.56,84.07 L850.48,92.99 C859.04,99.44 867.61,105.37 876.17,114.85 C879.68,118.74 883.19,124.09 886.70,129.92 C892.69,139.88 898.68,154.71 904.67,166.86 C908.98,175.60 913.28,184.72 917.59,192.76 C922.62,202.17 927.65,210.84 932.68,219.09 C937.24,226.57 941.81,234.02 946.37,240.32 C951.99,248.07 957.60,254.70 963.22,261.12 C967.31,265.80 971.41,270.80 975.50,274.28 C981.24,279.16 986.97,283.00 992.70,286.17 C995.98,287.99 999.25,289.49 1002.53,290.84 C1007.44,292.87 1012.36,294.70 1017.27,296.15 C1022.65,297.74 1028.04,299.05 1033.42,300.18 C1037.63,301.07 1041.84,301.86 1046.05,302.52 C1051.90,303.43 1057.75,304.16 1063.60,304.85 C1066.88,305.24 1070.16,305.69 1073.43,305.91 C1079.52,306.33 1085.60,306.52 1091.68,306.76 C1095.66,306.92 1099.64,307.11 1103.62,307.19 C1109.23,307.30 1114.85,307.31 1120.47,307.40 C1123.74,307.45 1127.02,307.54 1130.29,307.61" stroke="#ee0000" stroke-width="2.90" fill="none" stroke-linejoin="round" stroke-linecap="round"/>
<rect x="847.48" y="89.99" width="6.00" height="6.00" stroke="#000" stroke-width="1" fill="#ee0000"/><rect x="873.17" y="111.85" width="6.00" height="6.00" stroke="#000" stroke-width="1" fill="#ee0000"/><rect x="883.70" y="126.92" width="6.00" height="6.00" stroke="#000" stroke-width="1" fill="#ee0000"/><rect x="901.67" y="163.86" width="6.00" height="6.00" stroke="#000" stroke-width="1" fill="#ee0000"/><rect x="914.59" y="189.76" width="6.00" height="6.00" stroke="#000" stroke-width="1" fill="#ee0000"/><rect x="929.68" y="216.09" width="6.00" height="6.00" stroke="#000" stroke-width="1" fill="#ee0000"/><rect x="943.37" y="237.32" width="6.00" height="6.00" stroke="#000" stroke-width="1" fill="#ee0000"/><rect x="960.22" y="258.12" width="6.00" height="6.00" stroke="#000" stroke-width="1" fill="#ee0000"/><rect x="972.50" y="271.28" width="6.00" height="6.00" stroke="#000" stroke-width="1" fill="#ee0000"/><rect x="989.70" y="283.17" width="6.00" height="6.00" stroke="#000" stroke-width="1" fill="#ee0000"/><rect x="999.53" y="287.84" width="6.00" height="6.00" stroke="#000" stroke-width="1" fill="#ee0000"/><rect x="1014.27" y="293.15" width="6.00" height="6.00" stroke="#000" stroke-width="1" fill="#ee0000"/><rect x="1030.42" y="297.18" width="6.00" height="6.00" stroke="#000" stroke-width="1" fill="#ee0000"/><rect x="1043.05" y="299.52" width="6.00" height="6.00" stroke="#000" stroke-width="1" fill="#ee0000"/><rect x="1060.60" y="301.85" width="6.00" height="6.00" stroke="#000" stroke-width="1" fill="#ee0000"/><rect x="1070.43" y="302.91" width="6.00" height="6.00" stroke="#000" stroke-width="1" fill="#ee0000"/><rect x="1088.68" y="303.76" width="6.00" height="6.00" stroke="#000" stroke-width="1" fill="#ee0000"/><rect x="1100.62" y="304.19" width="6.00" height="6.00" stroke="#000" stroke-width="1" fill="#ee0000"/><rect x="1117.47" y="304.40" width="6.00" height="6.00" stroke="#000" stroke-width="1" fill="#ee0000"/><rect x="1127.29" y="304.61" width="6.00" height="6.00" stroke="#000" stroke-width="1" fill="#ee0000"/>
<path d="M816.50,76.43 L837.56,84.07 L850.48,92.99 C859.04,99.44 867.61,105.37 876.17,114.85 C879.68,118.74 883.19,125.25 886.70,129.92 C892.69,137.90 898.68,144.05 904.67,152.00 C908.98,157.72 913.28,164.22 917.59,170.47 C922.62,177.78 927.65,184.86 932.68,192.76 C937.24,199.93 941.81,208.13 946.37,215.69 C951.99,225.00 957.60,234.79 963.22,243.29 C967.31,249.49 971.41,256.02 975.50,260.70 C981.24,267.24 986.97,272.24 992.70,276.83 C995.98,279.45 999.25,282.04 1002.53,283.84 C1007.44,286.52 1012.36,288.41 1017.27,290.21 C1022.65,292.17 1028.04,293.92 1033.42,295.30 C1037.63,296.38 1041.84,297.25 1046.05,298.06 C1051.90,299.18 1057.75,300.28 1063.60,301.03 C1066.88,301.46 1070.16,301.76 1073.43,302.09 C1079.52,302.71 1085.60,303.24 1091.68,303.79 C1095.66,304.15 1099.64,304.56 1103.62,304.85 C1109.23,305.27 1114.85,305.63 1120.47,305.91 C1123.74,306.08 1127.02,306.20 1130.29,306.34" stroke="#cdc830" stroke-width="2.90" fill="none" stroke-linejoin="round" stroke-linecap="round"/>
<polygon points="850.48,87.59 851.46,91.21 854.73,91.18 852.07,93.39 853.11,96.99 850.48,94.74 847.85,96.99 848.88,93.39 846.22,91.18 849.49,91.21" stroke="#000" stroke-width="1" fill="#cdc830"/><polygon points="876.17,109.45 877.16,113.07 880.42,113.05 877.76,115.25 878.80,118.86 876.17,116.60 873.54,118.86 874.58,115.25 871.92,113.05 875.18,113.07" stroke="#000" stroke-width="1" fill="#cdc830"/><polygon points="886.70,124.52 887.69,128.15 890.95,128.12 888.29,130.33 889.33,133.93 886.70,131.67 884.07,133.93 885.11,130.33 882.45,128.12 885.71,128.15" stroke="#000" stroke-width="1" fill="#cdc830"/><polygon points="904.67,146.60 905.66,150.23 908.92,150.20 906.27,152.41 907.30,156.01 904.67,153.75 902.04,156.01 903.08,152.41 900.42,150.20 903.69,150.23" stroke="#000" stroke-width="1" fill="#cdc830"/><polygon points="917.59,165.07 918.57,168.70 921.84,168.67 919.18,170.88 920.22,174.48 917.59,172.22 914.96,174.48 915.99,170.88 913.33,168.67 916.60,168.70" stroke="#000" stroke-width="1" fill="#cdc830"/><polygon points="932.68,187.36 933.67,190.99 936.93,190.96 934.28,193.17 935.31,196.77 932.68,194.51 930.05,196.77 931.09,193.17 928.43,190.96 931.70,190.99" stroke="#000" stroke-width="1" fill="#cdc830"/><polygon points="946.37,210.29 947.36,213.91 950.62,213.88 947.96,216.09 949.00,219.70 946.37,217.44 943.74,219.70 944.78,216.09 942.12,213.88 945.38,213.91" stroke="#000" stroke-width="1" fill="#cdc830"/><polygon points="963.22,237.89 964.20,241.51 967.47,241.48 964.81,243.69 965.85,247.30 963.22,245.04 960.59,247.30 961.62,243.69 958.96,241.48 962.23,241.51" stroke="#000" stroke-width="1" fill="#cdc830"/><polygon points="975.50,255.30 976.49,258.92 979.76,258.89 977.10,261.10 978.13,264.70 975.50,262.45 972.87,264.70 973.91,261.10 971.25,258.89 974.52,258.92" stroke="#000" stroke-width="1" fill="#cdc830"/><polygon points="992.70,271.43 993.69,275.05 996.96,275.02 994.30,277.23 995.33,280.84 992.70,278.58 990.07,280.84 991.11,277.23 988.45,275.02 991.72,275.05" stroke="#000" stroke-width="1" fill="#cdc830"/><polygon points="1002.53,278.44 1003.52,282.06 1006.78,282.03 1004.12,284.24 1005.16,287.84 1002.53,285.59 999.90,287.84 1000.94,284.24 998.28,282.03 1001.54,282.06" stroke="#000" stroke-width="1" fill="#cdc830"/><polygon points="1017.27,284.81 1018.26,288.43 1021.53,288.40 1018.87,290.61 1019.90,294.21 1017.27,291.96 1014.64,294.21 1015.68,290.61 1013.02,288.40 1016.29,288.43" stroke="#000" stroke-width="1" fill="#cdc830"/><polygon points="1033.42,289.90 1034.40,293.52 1037.67,293.49 1035.01,295.70 1036.05,299.31 1033.42,297.05 1030.79,299.31 1031.82,295.70 1029.16,293.49 1032.43,293.52" stroke="#000" stroke-width="1" fill="#cdc830"/><polygon points="1046.05,292.66 1047.04,296.28 1050.31,296.25 1047.65,298.46 1048.68,302.07 1046.05,299.81 1043.43,302.07 1044.46,298.46 1041.80,296.25 1045.07,296.28" stroke="#000" stroke-width="1" fill="#cdc830"/><polygon points="1063.60,295.63 1064.59,299.25 1067.86,299.23 1065.20,301.43 1066.23,305.04 1063.60,302.78 1060.98,305.04 1062.01,301.43 1059.35,299.23 1062.62,299.25" stroke="#000" stroke-width="1" fill="#cdc830"/><polygon points="1073.43,296.69 1074.42,300.32 1077.69,300.29 1075.03,302.50 1076.06,306.10 1073.43,303.84 1070.80,306.10 1071.84,302.50 1069.18,300.29 1072.45,300.32" stroke="#000" stroke-width="1" fill="#cdc830"/><polygon points="1091.68,298.39 1092.67,302.01 1095.94,301.98 1093.28,304.19 1094.31,307.80 1091.68,305.54 1089.06,307.80 1090.09,304.19 1087.43,301.98 1090.70,302.01" stroke="#000" stroke-width="1" fill="#cdc830"/><polygon points="1103.62,299.45 1104.60,303.08 1107.87,303.05 1105.21,305.26 1106.25,308.86 1103.62,306.60 1100.99,308.86 1102.02,305.26 1099.36,303.05 1102.63,303.08" stroke="#000" stroke-width="1" fill="#cdc830"/><polygon points="1120.47,300.51 1121.45,304.14 1124.72,304.11 1122.06,306.32 1123.09,309.92 1120.47,307.66 1117.84,309.92 1118.87,306.32 1116.21,304.11 1119.48,304.14" stroke="#000" stroke-width="1" fill="#cdc830"/><polygon points="1130.29,300.94 1131.28,304.56 1134.55,304.53 1131.89,306.74 1132.92,310.35 1130.29,308.09 1127.67,310.35 1128.70,306.74 1126.04,304.53 1129.31,304.56" stroke="#000" stroke-width="1" fill="#cdc830"/>
<path d="M816.50,72.82 C827.83,74.30 839.15,75.11 850.48,77.28 C859.04,78.92 867.61,82.18 876.17,85.77 C879.68,87.24 883.19,89.33 886.70,91.29 C892.69,94.63 898.68,97.35 904.67,102.11 C908.98,105.54 913.28,111.35 917.59,116.55 C922.62,122.63 927.65,128.79 932.68,136.51 C937.24,143.50 941.81,152.67 946.37,161.34 C951.99,172.02 957.60,183.31 963.22,195.10 C967.31,203.70 971.41,213.55 975.50,222.06 C981.24,233.98 986.97,246.22 992.70,255.81 C995.98,261.30 999.25,266.78 1002.53,270.46 C1007.44,275.99 1012.36,280.12 1017.27,283.41 C1022.65,287.02 1028.04,289.91 1033.42,292.12 C1037.63,293.84 1041.84,295.31 1046.05,296.36 C1051.90,297.82 1057.75,299.08 1063.60,299.76 C1066.88,300.14 1070.16,300.29 1073.43,300.61 C1079.52,301.20 1085.60,302.30 1091.68,302.73 C1095.66,303.01 1099.64,303.11 1103.62,303.37 C1109.23,303.74 1114.85,304.85 1120.47,304.85 C1123.74,304.85 1127.02,304.85 1130.29,304.85" stroke="#dd00dd" stroke-width="2.90" fill="none" stroke-linejoin="round" stroke-linecap="round"/>
<path d="M850.48,81.78 L854.88,73.38 L846.08,73.38 Z" stroke="#000" stroke-width="1" fill="#dd00dd"/><path d="M876.17,90.27 L880.57,81.87 L871.77,81.87 Z" stroke="#000" stroke-width="1" fill="#dd00dd"/><path d="M886.70,95.79 L891.10,87.39 L882.30,87.39 Z" stroke="#000" stroke-width="1" fill="#dd00dd"/><path d="M904.67,106.61 L909.07,98.21 L900.27,98.21 Z" stroke="#000" stroke-width="1" fill="#dd00dd"/><path d="M917.59,121.05 L921.99,112.65 L913.19,112.65 Z" stroke="#000" stroke-width="1" fill="#dd00dd"/><path d="M932.68,141.01 L937.08,132.61 L928.28,132.61 Z" stroke="#000" stroke-width="1" fill="#dd00dd"/><path d="M946.37,165.84 L950.77,157.44 L941.97,157.44 Z" stroke="#000" stroke-width="1" fill="#dd00dd"/><path d="M963.22,199.60 L967.62,191.20 L958.82,191.20 Z" stroke="#000" stroke-width="1" fill="#dd00dd"/><path d="M975.50,226.56 L979.90,218.16 L971.10,218.16 Z" stroke="#000" stroke-width="1" fill="#dd00dd"/><path d="M992.70,260.31 L997.10,251.91 L988.30,251.91 Z" stroke="#000" stroke-width="1" fill="#dd00dd"/><path d="M1002.53,274.96 L1006.93,266.56 L998.13,266.56 Z" stroke="#000" stroke-width="1" fill="#dd00dd"/><path d="M1017.27,287.91 L1021.67,279.51 L1012.87,279.51 Z" stroke="#000" stroke-width="1" fill="#dd00dd"/><path d="M1033.42,296.62 L1037.82,288.22 L1029.02,288.22 Z" stroke="#000" stroke-width="1" fill="#dd00dd"/><path d="M1046.05,300.86 L1050.45,292.46 L1041.65,292.46 Z" stroke="#000" stroke-width="1" fill="#dd00dd"/><path d="M1063.60,304.26 L1068.00,295.86 L1059.20,295.86 Z" stroke="#000" stroke-width="1" fill="#dd00dd"/><path d="M1073.43,305.11 L1077.83,296.71 L1069.03,296.71 Z" stroke="#000" stroke-width="1" fill="#dd00dd"/><path d="M1091.68,307.23 L1096.08,298.83 L1087.28,298.83 Z" stroke="#000" stroke-width="1" fill="#dd00dd"/><path d="M1103.62,307.87 L1108.02,299.47 L1099.22,299.47 Z" stroke="#000" stroke-width="1" fill="#dd00dd"/><path d="M1120.47,309.35 L1124.87,300.95 L1116.07,300.95 Z" stroke="#000" stroke-width="1" fill="#dd00dd"/><path d="M1130.29,309.35 L1134.69,300.95 L1125.89,300.95 Z" stroke="#000" stroke-width="1" fill="#dd00dd"/>
<path d="M837.5,308.2 v-2 M837.5,53.5 v2 M850.5,308.2 v-2 M850.5,53.5 v2 M858.5,308.2 v-2 M858.5,53.5 v2 M865.5,308.2 v-2 M865.5,53.5 v2 M871.5,308.2 v-2 M871.5,53.5 v2 M876.5,308.2 v-2 M876.5,53.5 v2 M880.5,308.2 v-2 M880.5,53.5 v2 M883.5,308.2 v-2 M883.5,53.5 v2 M886.5,308.2 v-4 M886.5,53.5 v4 M908.5,308.2 v-2 M908.5,53.5 v2 M920.5,308.2 v-2 M920.5,53.5 v2 M929.5,308.2 v-2 M929.5,53.5 v2 M935.5,308.2 v-2 M935.5,53.5 v2 M941.5,308.2 v-2 M941.5,53.5 v2 M946.5,308.2 v-2 M946.5,53.5 v2 M950.5,308.2 v-2 M950.5,53.5 v2 M953.5,308.2 v-2 M953.5,53.5 v2 M957.5,308.2 v-4 M957.5,53.5 v4 M978.5,308.2 v-2 M978.5,53.5 v2 M990.5,308.2 v-2 M990.5,53.5 v2 M999.5,308.2 v-2 M999.5,53.5 v2 M1006.5,308.2 v-2 M1006.5,53.5 v2 M1011.5,308.2 v-2 M1011.5,53.5 v2 M1016.5,308.2 v-2 M1016.5,53.5 v2 M1020.5,308.2 v-2 M1020.5,53.5 v2 M1024.5,308.2 v-2 M1024.5,53.5 v2 M1027.5,308.2 v-4 M1027.5,53.5 v4 M1048.5,308.2 v-2 M1048.5,53.5 v2 M1060.5,308.2 v-2 M1060.5,53.5 v2 M1069.5,308.2 v-2 M1069.5,53.5 v2 M1076.5,308.2 v-2 M1076.5,53.5 v2 M1081.5,308.2 v-2 M1081.5,53.5 v2 M1086.5,308.2 v-2 M1086.5,53.5 v2 M1090.5,308.2 v-2 M1090.5,53.5 v2 M1094.5,308.2 v-2 M1094.5,53.5 v2 M1097.5,308.2 v-4 M1097.5,53.5 v4 M1118.5,308.2 v-2 M1118.5,53.5 v2 M1130.5,308.2 v-2 M1130.5,53.5 v2 M1139.5,308.2 v-2 M1139.5,53.5 v2 M1146.5,308.2 v-2 M1146.5,53.5 v2 M1152.5,308.2 v-2 M1152.5,53.5 v2 M1156.5,308.2 v-2 M1156.5,53.5 v2 M1160.5,308.2 v-2 M1160.5,53.5 v2 M1164.5,308.2 v-2 M1164.5,53.5 v2 M816.5,266.5 h4 M1167.5,266.5 h-4 M816.5,223.5 h4 M1167.5,223.5 h-4 M816.5,181.5 h4 M1167.5,181.5 h-4 M816.5,138.5 h4 M1167.5,138.5 h-4 M816.5,95.5 h4 M1167.5,95.5 h-4" stroke="#000" stroke-width="1" fill="none"/>
<rect x="816.5" y="53.5" width="351.0" height="254.8" stroke="#000" stroke-width="1.1" fill="none"/>
<g font-family="Liberation Sans, sans-serif" font-size="15.6" fill="#000"><text transform="translate(815.30,313.95) scale(0.92,1)" text-anchor="end" font-size="16">0</text><text transform="translate(815.30,271.49) scale(0.92,1)" text-anchor="end" font-size="16">2</text><text transform="translate(815.30,229.03) scale(0.92,1)" text-anchor="end" font-size="16">4</text><text transform="translate(815.30,186.57) scale(0.92,1)" text-anchor="end" font-size="16">6</text><text transform="translate(815.30,144.12) scale(0.92,1)" text-anchor="end" font-size="16">8</text><text transform="translate(815.30,101.66) scale(0.92,1)" text-anchor="end" font-size="16">10</text><text transform="translate(815.30,59.20) scale(0.92,1)" text-anchor="end" font-size="16">12</text><text transform="translate(817.30,328.85) scale(0.93,1)" text-anchor="middle" font-size="15.2">10<tspan dy="-8.6" dx="0" font-size="10.2">0</tspan></text><text transform="translate(887.50,328.85) scale(0.93,1)" text-anchor="middle" font-size="15.2">10<tspan dy="-8.6" dx="0" font-size="10.2">1</tspan></text><text transform="translate(957.70,328.85) scale(0.93,1)" text-anchor="middle" font-size="15.2">10<tspan dy="-8.6" dx="0" font-size="10.2">2</tspan></text><text transform="translate(1027.90,328.85) scale(0.93,1)" text-anchor="middle" font-size="15.2">10<tspan dy="-8.6" dx="0" font-size="10.2">3</tspan></text><text transform="translate(1098.10,328.85) scale(0.93,1)" text-anchor="middle" font-size="15.2">10<tspan dy="-8.6" dx="0" font-size="10.2">4</tspan></text><text transform="translate(1168.30,328.85) scale(0.93,1)" text-anchor="middle" font-size="15.2">10<tspan dy="-8.6" dx="0" font-size="10.2">5</tspan></text></g>
<path d="M100.50,395.00 V650.25 M143.50,395.00 V650.25 M187.50,395.00 V650.25 M230.50,395.00 V650.25 M273.50,395.00 V650.25 M317.50,395.00 V650.25 M360.50,395.00 V650.25 M56.00,599.50 H403.50 M56.00,548.50 H403.50 M56.00,497.50 H403.50 M56.00,446.50 H403.50" stroke="#a6a6a6" stroke-width="1" stroke-dasharray="1 2" fill="none"/>
<path d="M56.50,468.43 C60.84,469.28 65.17,469.51 69.51,470.98 C72.17,471.88 74.83,475.93 77.49,478.11 C82.79,482.43 88.08,485.19 93.37,489.82 C95.54,491.72 97.71,494.08 99.88,496.44 C103.58,500.48 107.28,504.50 110.98,509.68 C113.64,513.41 116.30,518.27 118.96,522.92 C122.07,528.36 125.18,534.55 128.29,540.24 C131.10,545.40 133.92,550.23 136.74,555.52 C140.21,562.03 143.68,569.79 147.15,575.89 C149.68,580.34 152.21,584.13 154.74,588.12 C158.29,593.69 161.83,600.19 165.37,604.41 C167.40,606.83 169.42,608.73 171.44,610.52 C174.48,613.22 177.52,615.38 180.55,617.65 C183.88,620.14 187.20,622.79 190.53,624.78 C193.13,626.35 195.73,627.64 198.34,628.86 C201.95,630.56 205.57,632.33 209.18,633.44 C211.20,634.07 213.23,634.44 215.25,634.97 C219.01,635.95 222.77,637.35 226.53,638.03 C228.99,638.47 231.45,638.69 233.90,639.05 C237.37,639.55 240.84,640.26 244.31,640.68 C246.34,640.92 248.36,641.08 250.39,641.29" stroke="#1ee01e" stroke-width="2.90" fill="none" stroke-linejoin="round" stroke-linecap="round"/>
<path d="M77.49,473.01 L81.89,481.41 L73.09,481.41 Z" stroke="#000" stroke-width="1" fill="#1ee01e"/><path d="M93.37,484.72 L97.77,493.12 L88.97,493.12 Z" stroke="#000" stroke-width="1" fill="#1ee01e"/><path d="M99.88,491.34 L104.28,499.74 L95.47,499.74 Z" stroke="#000" stroke-width="1" fill="#1ee01e"/><path d="M110.98,504.58 L115.38,512.98 L106.58,512.98 Z" stroke="#000" stroke-width="1" fill="#1ee01e"/><path d="M118.96,517.82 L123.36,526.22 L114.56,526.22 Z" stroke="#000" stroke-width="1" fill="#1ee01e"/><path d="M128.29,535.14 L132.69,543.54 L123.89,543.54 Z" stroke="#000" stroke-width="1" fill="#1ee01e"/><path d="M136.74,550.42 L141.14,558.82 L132.34,558.82 Z" stroke="#000" stroke-width="1" fill="#1ee01e"/><path d="M147.15,570.79 L151.55,579.19 L142.75,579.19 Z" stroke="#000" stroke-width="1" fill="#1ee01e"/><path d="M154.74,583.02 L159.14,591.42 L150.34,591.42 Z" stroke="#000" stroke-width="1" fill="#1ee01e"/><path d="M165.37,599.31 L169.77,607.71 L160.97,607.71 Z" stroke="#000" stroke-width="1" fill="#1ee01e"/><path d="M171.44,605.42 L175.84,613.82 L167.04,613.82 Z" stroke="#000" stroke-width="1" fill="#1ee01e"/><path d="M180.55,612.55 L184.95,620.95 L176.15,620.95 Z" stroke="#000" stroke-width="1" fill="#1ee01e"/><path d="M190.53,619.68 L194.93,628.08 L186.13,628.08 Z" stroke="#000" stroke-width="1" fill="#1ee01e"/><path d="M198.34,623.76 L202.74,632.16 L193.94,632.16 Z" stroke="#000" stroke-width="1" fill="#1ee01e"/><path d="M209.18,628.34 L213.58,636.74 L204.78,636.74 Z" stroke="#000" stroke-width="1" fill="#1ee01e"/><path d="M215.25,629.87 L219.65,638.27 L210.85,638.27 Z" stroke="#000" stroke-width="1" fill="#1ee01e"/><path d="M226.53,632.93 L230.93,641.33 L222.13,641.33 Z" stroke="#000" stroke-width="1" fill="#1ee01e"/><path d="M233.90,633.95 L238.30,642.35 L229.50,642.35 Z" stroke="#000" stroke-width="1" fill="#1ee01e"/><path d="M244.31,635.58 L248.71,643.98 L239.91,643.98 Z" stroke="#000" stroke-width="1" fill="#1ee01e"/><path d="M250.39,636.19 L254.79,644.59 L245.99,644.59 Z" stroke="#000" stroke-width="1" fill="#1ee01e"/>
<path d="M99.01,433.29 L113.79,453.66 L122.86,472.00 C129.80,480.31 136.74,483.00 143.68,488.29 C146.86,490.72 150.05,493.25 153.23,495.42 C158.72,499.17 164.21,501.43 169.71,505.61 C173.61,508.58 177.52,512.71 181.42,516.81 C186.05,521.68 190.67,527.51 195.30,533.11 C199.93,538.71 204.55,544.10 209.18,550.43 C214.53,557.75 219.88,565.78 225.23,574.87 C228.99,581.27 232.75,590.86 236.51,596.26 C241.28,603.12 246.05,606.60 250.82,612.56 C253.57,615.99 256.31,620.93 259.06,623.77 C262.82,627.64 266.58,630.54 270.34,632.93 C274.24,635.42 278.15,637.17 282.05,639.05 C285.09,640.50 288.12,642.04 291.16,643.12 C294.63,644.36 298.10,645.51 301.57,646.18 C303.88,646.62 306.20,646.92 308.51,647.19 C312.12,647.62 315.74,647.93 319.35,648.21 C321.81,648.41 324.27,648.57 326.73,648.72 C329.91,648.91 333.09,649.23 336.27,649.23 C338.29,649.23 340.32,649.23 342.34,649.23" stroke="#0000d0" stroke-width="2.90" fill="none" stroke-linejoin="round" stroke-linecap="round"/>
<path d="M122.86,466.69 L126.76,472.00 L122.86,477.30 L118.96,472.00 Z" stroke="#000" stroke-width="1" fill="#0000d0"/><path d="M143.68,482.99 L147.58,488.29 L143.68,493.59 L139.78,488.29 Z" stroke="#000" stroke-width="1" fill="#0000d0"/><path d="M153.23,490.12 L157.13,495.42 L153.23,500.72 L149.33,495.42 Z" stroke="#000" stroke-width="1" fill="#0000d0"/><path d="M169.71,500.31 L173.61,505.61 L169.71,510.91 L165.81,505.61 Z" stroke="#000" stroke-width="1" fill="#0000d0"/><path d="M181.42,511.51 L185.32,516.81 L181.42,522.11 L177.52,516.81 Z" stroke="#000" stroke-width="1" fill="#0000d0"/><path d="M195.30,527.81 L199.20,533.11 L195.30,538.41 L191.40,533.11 Z" stroke="#000" stroke-width="1" fill="#0000d0"/><path d="M209.18,545.13 L213.08,550.43 L209.18,555.73 L205.28,550.43 Z" stroke="#000" stroke-width="1" fill="#0000d0"/><path d="M225.23,569.57 L229.13,574.87 L225.23,580.17 L221.33,574.87 Z" stroke="#000" stroke-width="1" fill="#0000d0"/><path d="M236.51,590.96 L240.41,596.26 L236.51,601.56 L232.61,596.26 Z" stroke="#000" stroke-width="1" fill="#0000d0"/><path d="M250.82,607.26 L254.72,612.56 L250.82,617.86 L246.92,612.56 Z" stroke="#000" stroke-width="1" fill="#0000d0"/><path d="M259.06,618.47 L262.96,623.77 L259.06,629.07 L255.16,623.77 Z" stroke="#000" stroke-width="1" fill="#0000d0"/><path d="M270.34,627.63 L274.24,632.93 L270.34,638.23 L266.44,632.93 Z" stroke="#000" stroke-width="1" fill="#0000d0"/><path d="M282.05,633.75 L285.95,639.05 L282.05,644.35 L278.15,639.05 Z" stroke="#000" stroke-width="1" fill="#0000d0"/><path d="M291.16,637.82 L295.06,643.12 L291.16,648.42 L287.26,643.12 Z" stroke="#000" stroke-width="1" fill="#0000d0"/><path d="M301.57,640.88 L305.47,646.18 L301.57,651.48 L297.67,646.18 Z" stroke="#000" stroke-width="1" fill="#0000d0"/><path d="M308.51,641.89 L312.41,647.19 L308.51,652.49 L304.61,647.19 Z" stroke="#000" stroke-width="1" fill="#0000d0"/><path d="M319.35,642.91 L323.25,648.21 L319.35,653.51 L315.45,648.21 Z" stroke="#000" stroke-width="1" fill="#0000d0"/><path d="M326.73,643.42 L330.63,648.72 L326.73,654.02 L322.83,648.72 Z" stroke="#000" stroke-width="1" fill="#0000d0"/><path d="M336.27,643.93 L340.17,649.23 L336.27,654.53 L332.37,649.23 Z" stroke="#000" stroke-width="1" fill="#0000d0"/><path d="M342.34,643.93 L346.24,649.23 L342.34,654.53 L338.44,649.23 Z" stroke="#000" stroke-width="1" fill="#0000d0"/>
<path d="M99.01,420.05 C104.74,425.14 110.48,429.74 116.21,435.33 C119.73,438.75 123.25,442.86 126.77,446.53 C135.44,455.57 144.12,463.66 152.79,473.01 C156.70,477.22 160.60,481.77 164.50,486.26 C171.44,494.24 178.38,503.00 185.32,510.70 C189.81,515.68 194.29,519.34 198.77,524.96 C203.61,531.04 208.46,540.15 213.30,547.37 C218.00,554.38 222.70,560.31 227.40,567.74 C231.88,574.83 236.36,583.19 240.84,591.17 C244.02,596.83 247.21,603.73 250.39,608.49 C254.72,614.98 259.06,619.35 263.40,624.78 C265.57,627.50 267.74,630.95 269.90,632.93 C272.80,635.58 275.69,637.29 278.58,639.05 C281.76,640.98 284.94,643.24 288.12,644.14 C290.72,644.87 293.33,645.12 295.93,645.67 C298.97,646.30 302.00,647.33 305.04,647.70 C306.92,647.94 308.80,648.08 310.68,648.21 C313.86,648.43 317.04,648.51 320.22,648.72 C322.24,648.86 324.27,649.23 326.29,649.23 C329.47,649.23 332.65,649.23 335.84,649.23 C337.86,649.23 339.88,649.23 341.91,649.23" stroke="#ee0000" stroke-width="2.90" fill="none" stroke-linejoin="round" stroke-linecap="round"/>
<rect x="123.77" y="443.53" width="6.00" height="6.00" stroke="#000" stroke-width="1" fill="#ee0000"/><rect x="149.79" y="470.01" width="6.00" height="6.00" stroke="#000" stroke-width="1" fill="#ee0000"/><rect x="161.50" y="483.26" width="6.00" height="6.00" stroke="#000" stroke-width="1" fill="#ee0000"/><rect x="182.32" y="507.70" width="6.00" height="6.00" stroke="#000" stroke-width="1" fill="#ee0000"/><rect x="195.77" y="521.96" width="6.00" height="6.00" stroke="#000" stroke-width="1" fill="#ee0000"/><rect x="210.30" y="544.37" width="6.00" height="6.00" stroke="#000" stroke-width="1" fill="#ee0000"/><rect x="224.40" y="564.74" width="6.00" height="6.00" stroke="#000" stroke-width="1" fill="#ee0000"/><rect x="237.84" y="588.17" width="6.00" height="6.00" stroke="#000" stroke-width="1" fill="#ee0000"/><rect x="247.39" y="605.49" width="6.00" height="6.00" stroke="#000" stroke-width="1" fill="#ee0000"/><rect x="260.40" y="621.78" width="6.00" height="6.00" stroke="#000" stroke-width="1" fill="#ee0000"/><rect x="266.90" y="629.93" width="6.00" height="6.00" stroke="#000" stroke-width="1" fill="#ee0000"/><rect x="275.58" y="636.05" width="6.00" height="6.00" stroke="#000" stroke-width="1" fill="#ee0000"/><rect x="285.12" y="641.14" width="6.00" height="6.00" stroke="#000" stroke-width="1" fill="#ee0000"/><rect x="292.93" y="642.67" width="6.00" height="6.00" stroke="#000" stroke-width="1" fill="#ee0000"/><rect x="302.04" y="644.70" width="6.00" height="6.00" stroke="#000" stroke-width="1" fill="#ee0000"/><rect x="307.68" y="645.21" width="6.00" height="6.00" stroke="#000" stroke-width="1" fill="#ee0000"/><rect x="317.22" y="645.72" width="6.00" height="6.00" stroke="#000" stroke-width="1" fill="#ee0000"/><rect x="323.29" y="646.23" width="6.00" height="6.00" stroke="#000" stroke-width="1" fill="#ee0000"/><rect x="332.84" y="646.23" width="6.00" height="6.00" stroke="#000" stroke-width="1" fill="#ee0000"/><rect x="338.91" y="646.23" width="6.00" height="6.00" stroke="#000" stroke-width="1" fill="#ee0000"/>
<path d="M82.53,433.29 L95.54,453.66 L103.52,460.79 C108.81,466.60 114.10,476.57 119.39,485.24 C121.56,488.79 123.73,492.69 125.90,496.44 C129.60,502.85 133.30,509.51 137.00,515.79 C139.66,520.31 142.32,524.14 144.99,529.04 C148.09,534.75 151.20,541.62 154.31,548.39 C157.13,554.53 159.95,561.63 162.77,567.74 C166.24,575.27 169.71,582.91 173.18,589.13 C175.71,593.67 178.24,597.26 180.77,601.36 C184.31,607.09 187.85,613.14 191.40,618.67 C193.42,621.83 195.44,625.36 197.47,627.84 C200.50,631.56 203.54,634.81 206.58,637.01 C209.90,639.42 213.23,641.66 216.55,642.61 C219.16,643.35 221.76,643.54 224.36,644.14 C227.98,644.97 231.59,646.75 235.21,647.19 C237.23,647.44 239.25,647.53 241.28,647.70 C245.04,648.03 248.80,648.51 252.55,648.72 C255.01,648.86 257.47,648.96 259.93,649.03 C263.40,649.12 266.87,649.23 270.34,649.23 C272.36,649.23 274.39,649.23 276.41,649.23" stroke="#cdc830" stroke-width="2.90" fill="none" stroke-linejoin="round" stroke-linecap="round"/>
<polygon points="103.52,455.39 104.50,459.01 107.77,458.98 105.11,461.19 106.15,464.80 103.52,462.54 100.89,464.80 101.92,461.19 99.27,458.98 102.53,459.01" stroke="#000" stroke-width="1" fill="#cdc830"/><polygon points="119.39,479.84 120.38,483.46 123.65,483.43 120.99,485.64 122.02,489.24 119.39,486.99 116.77,489.24 117.80,485.64 115.14,483.43 118.41,483.46" stroke="#000" stroke-width="1" fill="#cdc830"/><polygon points="125.90,491.04 126.89,494.66 130.15,494.63 127.49,496.84 128.53,500.45 125.90,498.19 123.27,500.45 124.31,496.84 121.65,494.63 124.91,494.66" stroke="#000" stroke-width="1" fill="#cdc830"/><polygon points="137.00,510.39 137.99,514.02 141.26,513.99 138.60,516.20 139.63,519.80 137.00,517.54 134.38,519.80 135.41,516.20 132.75,513.99 136.02,514.02" stroke="#000" stroke-width="1" fill="#cdc830"/><polygon points="144.99,523.64 145.97,527.26 149.24,527.23 146.58,529.44 147.61,533.04 144.99,530.79 142.36,533.04 143.39,529.44 140.73,527.23 144.00,527.26" stroke="#000" stroke-width="1" fill="#cdc830"/><polygon points="154.31,542.99 155.30,546.61 158.56,546.58 155.91,548.79 156.94,552.40 154.31,550.14 151.68,552.40 152.72,548.79 150.06,546.58 153.32,546.61" stroke="#000" stroke-width="1" fill="#cdc830"/><polygon points="162.77,562.34 163.75,565.97 167.02,565.94 164.36,568.15 165.40,571.75 162.77,569.49 160.14,571.75 161.17,568.15 158.52,565.94 161.78,565.97" stroke="#000" stroke-width="1" fill="#cdc830"/><polygon points="173.18,583.73 174.16,587.36 177.43,587.33 174.77,589.54 175.81,593.14 173.18,590.88 170.55,593.14 171.58,589.54 168.93,587.33 172.19,587.36" stroke="#000" stroke-width="1" fill="#cdc830"/><polygon points="180.77,595.96 181.76,599.58 185.02,599.55 182.36,601.76 183.40,605.36 180.77,603.11 178.14,605.36 179.17,601.76 176.52,599.55 179.78,599.58" stroke="#000" stroke-width="1" fill="#cdc830"/><polygon points="191.40,613.27 192.38,616.90 195.65,616.87 192.99,619.08 194.02,622.68 191.40,620.42 188.77,622.68 189.80,619.08 187.14,616.87 190.41,616.90" stroke="#000" stroke-width="1" fill="#cdc830"/><polygon points="197.47,622.44 198.45,626.06 201.72,626.03 199.06,628.24 200.10,631.85 197.47,629.59 194.84,631.85 195.87,628.24 193.22,626.03 196.48,626.06" stroke="#000" stroke-width="1" fill="#cdc830"/><polygon points="206.58,631.61 207.56,635.23 210.83,635.20 208.17,637.41 209.21,641.02 206.58,638.76 203.95,641.02 204.98,637.41 202.32,635.20 205.59,635.23" stroke="#000" stroke-width="1" fill="#cdc830"/><polygon points="216.55,637.21 217.54,640.83 220.81,640.80 218.15,643.01 219.18,646.62 216.55,644.36 213.93,646.62 214.96,643.01 212.30,640.80 215.57,640.83" stroke="#000" stroke-width="1" fill="#cdc830"/><polygon points="224.36,638.74 225.35,642.36 228.61,642.33 225.96,644.54 226.99,648.15 224.36,645.89 221.73,648.15 222.77,644.54 220.11,642.33 223.38,642.36" stroke="#000" stroke-width="1" fill="#cdc830"/><polygon points="235.21,641.79 236.19,645.42 239.46,645.39 236.80,647.60 237.83,651.20 235.21,648.94 232.58,651.20 233.61,647.60 230.95,645.39 234.22,645.42" stroke="#000" stroke-width="1" fill="#cdc830"/><polygon points="241.28,642.30 242.26,645.93 245.53,645.90 242.87,648.11 243.91,651.71 241.28,649.45 238.65,651.71 239.68,648.11 237.02,645.90 240.29,645.93" stroke="#000" stroke-width="1" fill="#cdc830"/><polygon points="252.55,643.32 253.54,646.94 256.81,646.92 254.15,649.12 255.18,652.73 252.55,650.47 249.93,652.73 250.96,649.12 248.30,646.92 251.57,646.94" stroke="#000" stroke-width="1" fill="#cdc830"/><polygon points="259.93,643.63 260.91,647.25 264.18,647.22 261.52,649.43 262.56,653.03 259.93,650.78 257.30,653.03 258.33,649.43 255.68,647.22 258.94,647.25" stroke="#000" stroke-width="1" fill="#cdc830"/><polygon points="270.34,643.83 271.32,647.45 274.59,647.42 271.93,649.63 272.97,653.24 270.34,650.98 267.71,653.24 268.74,649.63 266.09,647.42 269.35,647.45" stroke="#000" stroke-width="1" fill="#cdc830"/><polygon points="276.41,643.83 277.40,647.45 280.66,647.42 278.01,649.63 279.04,653.24 276.41,650.98 273.78,653.24 274.82,649.63 272.16,647.42 275.43,647.45" stroke="#000" stroke-width="1" fill="#cdc830"/>
<path d="M70.5,650.2 v-2 M70.5,395.6 v2 M77.5,650.2 v-2 M77.5,395.6 v2 M83.5,650.2 v-2 M83.5,395.6 v2 M87.5,650.2 v-2 M87.5,395.6 v2 M90.5,650.2 v-2 M90.5,395.6 v2 M93.5,650.2 v-2 M93.5,395.6 v2 M96.5,650.2 v-2 M96.5,395.6 v2 M98.5,650.2 v-2 M98.5,395.6 v2 M100.5,650.2 v-4 M100.5,395.6 v4 M113.5,650.2 v-2 M113.5,395.6 v2 M121.5,650.2 v-2 M121.5,395.6 v2 M126.5,650.2 v-2 M126.5,395.6 v2 M130.5,650.2 v-2 M130.5,395.6 v2 M134.5,650.2 v-2 M134.5,395.6 v2 M137.5,650.2 v-2 M137.5,395.6 v2 M139.5,650.2 v-2 M139.5,395.6 v2 M141.5,650.2 v-2 M141.5,395.6 v2 M143.5,650.2 v-4 M143.5,395.6 v4 M156.5,650.2 v-2 M156.5,395.6 v2 M164.5,650.2 v-2 M164.5,395.6 v2 M169.5,650.2 v-2 M169.5,395.6 v2 M174.5,650.2 v-2 M174.5,395.6 v2 M177.5,650.2 v-2 M177.5,395.6 v2 M180.5,650.2 v-2 M180.5,395.6 v2 M182.5,650.2 v-2 M182.5,395.6 v2 M185.5,650.2 v-2 M185.5,395.6 v2 M187.5,650.2 v-4 M187.5,395.6 v4 M200.5,650.2 v-2 M200.5,395.6 v2 M207.5,650.2 v-2 M207.5,395.6 v2 M213.5,650.2 v-2 M213.5,395.6 v2 M217.5,650.2 v-2 M217.5,395.6 v2 M220.5,650.2 v-2 M220.5,395.6 v2 M223.5,650.2 v-2 M223.5,395.6 v2 M226.5,650.2 v-2 M226.5,395.6 v2 M228.5,650.2 v-2 M228.5,395.6 v2 M230.5,650.2 v-4 M230.5,395.6 v4 M243.5,650.2 v-2 M243.5,395.6 v2 M251.5,650.2 v-2 M251.5,395.6 v2 M256.5,650.2 v-2 M256.5,395.6 v2 M260.5,650.2 v-2 M260.5,395.6 v2 M264.5,650.2 v-2 M264.5,395.6 v2 M267.5,650.2 v-2 M267.5,395.6 v2 M269.5,650.2 v-2 M269.5,395.6 v2 M271.5,650.2 v-2 M271.5,395.6 v2 M273.5,650.2 v-4 M273.5,395.6 v4 M286.5,650.2 v-2 M286.5,395.6 v2 M294.5,650.2 v-2 M294.5,395.6 v2 M299.5,650.2 v-2 M299.5,395.6 v2 M304.5,650.2 v-2 M304.5,395.6 v2 M307.5,650.2 v-2 M307.5,395.6 v2 M310.5,650.2 v-2 M310.5,395.6 v2 M313.5,650.2 v-2 M313.5,395.6 v2 M315.5,650.2 v-2 M315.5,395.6 v2 M317.5,650.2 v-4 M317.5,395.6 v4 M330.5,650.2 v-2 M330.5,395.6 v2 M337.5,650.2 v-2 M337.5,395.6 v2 M343.5,650.2 v-2 M343.5,395.6 v2 M347.5,650.2 v-2 M347.5,395.6 v2 M351.5,650.2 v-2 M351.5,395.6 v2 M353.5,650.2 v-2 M353.5,395.6 v2 M356.5,650.2 v-2 M356.5,395.6 v2 M358.5,650.2 v-2 M358.5,395.6 v2 M360.5,650.2 v-4 M360.5,395.6 v4 M373.5,650.2 v-2 M373.5,395.6 v2 M381.5,650.2 v-2 M381.5,395.6 v2 M386.5,650.2 v-2 M386.5,395.6 v2 M390.5,650.2 v-2 M390.5,395.6 v2 M394.5,650.2 v-2 M394.5,395.6 v2 M397.5,650.2 v-2 M397.5,395.6 v2 M399.5,650.2 v-2 M399.5,395.6 v2 M402.5,650.2 v-2 M402.5,395.6 v2 M56.5,599.5 h4 M403.5,599.5 h-4 M56.5,548.5 h4 M403.5,548.5 h-4 M56.5,497.5 h4 M403.5,497.5 h-4 M56.5,446.5 h4 M403.5,446.5 h-4" stroke="#000" stroke-width="1" fill="none"/>
<rect x="56.5" y="395.6" width="347.0" height="254.6" stroke="#000" stroke-width="1.1" fill="none"/>
<g font-family="Liberation Sans, sans-serif" font-size="15.6" fill="#000"><text transform="translate(55.30,655.95) scale(0.92,1)" text-anchor="end" font-size="16">0</text><text transform="translate(55.30,605.02) scale(0.92,1)" text-anchor="end" font-size="16">0.5</text><text transform="translate(55.30,554.09) scale(0.92,1)" text-anchor="end" font-size="16">1</text><text transform="translate(55.30,503.16) scale(0.92,1)" text-anchor="end" font-size="16">1.5</text><text transform="translate(55.30,452.23) scale(0.92,1)" text-anchor="end" font-size="16">2</text><text transform="translate(55.30,401.30) scale(0.92,1)" text-anchor="end" font-size="16">2.5</text><text transform="translate(57.30,670.85) scale(0.93,1)" text-anchor="middle" font-size="15.2">10<tspan dy="-8.6" dx="0" font-size="10.2">0</tspan></text><text transform="translate(100.67,670.85) scale(0.93,1)" text-anchor="middle" font-size="15.2">10<tspan dy="-8.6" dx="0" font-size="10.2">1</tspan></text><text transform="translate(144.05,670.85) scale(0.93,1)" text-anchor="middle" font-size="15.2">10<tspan dy="-8.6" dx="0" font-size="10.2">2</tspan></text><text transform="translate(187.43,670.85) scale(0.93,1)" text-anchor="middle" font-size="15.2">10<tspan dy="-8.6" dx="0" font-size="10.2">3</tspan></text><text transform="translate(230.80,670.85) scale(0.93,1)" text-anchor="middle" font-size="15.2">10<tspan dy="-8.6" dx="0" font-size="10.2">4</tspan></text><text transform="translate(274.18,670.85) scale(0.93,1)" text-anchor="middle" font-size="15.2">10<tspan dy="-8.6" dx="0" font-size="10.2">5</tspan></text><text transform="translate(317.55,670.85) scale(0.93,1)" text-anchor="middle" font-size="15.2">10<tspan dy="-8.6" dx="0" font-size="10.2">6</tspan></text><text transform="translate(360.93,670.85) scale(0.93,1)" text-anchor="middle" font-size="15.2">10<tspan dy="-8.6" dx="0" font-size="10.2">7</tspan></text><text transform="translate(404.30,670.85) scale(0.93,1)" text-anchor="middle" font-size="15.2">10<tspan dy="-8.6" dx="0" font-size="10.2">8</tspan></text></g>
<path d="M472.50,395.00 V650.25 M517.50,395.00 V650.25 M561.50,395.00 V650.25 M606.50,395.00 V650.25 M651.50,395.00 V650.25 M696.50,395.00 V650.25 M740.50,395.00 V650.25 M427.00,619.50 H785.50 M427.00,587.50 H785.50 M427.00,555.50 H785.50 M427.00,523.50 H785.50 M427.00,491.50 H785.50 M427.00,459.50 H785.50 M427.00,427.50 H785.50" stroke="#a6a6a6" stroke-width="1" stroke-dasharray="1 2" fill="none"/>
<path d="M481.20,435.39 L494.62,460.22 L502.86,481.54 L508.05,501.60 L519.24,504.46 C521.48,505.51 523.71,511.30 525.95,514.65 C529.77,520.36 533.59,525.83 537.41,531.52 C540.15,535.61 542.90,539.46 545.64,543.93 C548.85,549.17 552.05,555.11 555.26,561.12 C558.17,566.58 561.08,573.21 563.99,578.31 C567.57,584.59 571.15,589.53 574.73,595.18 C577.34,599.30 579.95,604.12 582.56,607.60 C586.21,612.47 589.87,616.12 593.52,620.01 C595.61,622.24 597.70,624.56 599.79,626.38 C602.92,629.10 606.05,631.51 609.18,633.38 C612.62,635.43 616.05,637.16 619.48,638.47 C622.16,639.50 624.85,640.41 627.53,641.02 C631.26,641.86 634.99,642.33 638.72,642.93 C640.81,643.26 642.90,643.58 644.99,643.88 C648.86,644.45 652.74,645.08 656.62,645.48 C659.16,645.73 661.69,645.89 664.23,646.11 C667.81,646.42 671.39,646.84 674.97,647.07 C677.06,647.20 679.14,647.28 681.23,647.39" stroke="#1ee01e" stroke-width="2.90" fill="none" stroke-linejoin="round" stroke-linecap="round"/>
<path d="M502.86,476.44 L507.26,484.84 L498.46,484.84 Z" stroke="#000" stroke-width="1" fill="#1ee01e"/><path d="M519.24,499.36 L523.64,507.76 L514.84,507.76 Z" stroke="#000" stroke-width="1" fill="#1ee01e"/><path d="M525.95,509.55 L530.35,517.95 L521.55,517.95 Z" stroke="#000" stroke-width="1" fill="#1ee01e"/><path d="M537.41,526.42 L541.81,534.82 L533.01,534.82 Z" stroke="#000" stroke-width="1" fill="#1ee01e"/><path d="M545.64,538.83 L550.04,547.23 L541.24,547.23 Z" stroke="#000" stroke-width="1" fill="#1ee01e"/><path d="M555.26,556.02 L559.66,564.42 L550.86,564.42 Z" stroke="#000" stroke-width="1" fill="#1ee01e"/><path d="M563.99,573.21 L568.39,581.61 L559.59,581.61 Z" stroke="#000" stroke-width="1" fill="#1ee01e"/><path d="M574.73,590.08 L579.13,598.48 L570.33,598.48 Z" stroke="#000" stroke-width="1" fill="#1ee01e"/><path d="M582.56,602.50 L586.96,610.90 L578.16,610.90 Z" stroke="#000" stroke-width="1" fill="#1ee01e"/><path d="M593.52,614.91 L597.92,623.31 L589.12,623.31 Z" stroke="#000" stroke-width="1" fill="#1ee01e"/><path d="M599.79,621.28 L604.19,629.68 L595.39,629.68 Z" stroke="#000" stroke-width="1" fill="#1ee01e"/><path d="M609.18,628.28 L613.58,636.68 L604.78,636.68 Z" stroke="#000" stroke-width="1" fill="#1ee01e"/><path d="M619.48,633.37 L623.88,641.77 L615.08,641.77 Z" stroke="#000" stroke-width="1" fill="#1ee01e"/><path d="M627.53,635.92 L631.93,644.32 L623.13,644.32 Z" stroke="#000" stroke-width="1" fill="#1ee01e"/><path d="M638.72,637.83 L643.12,646.23 L634.32,646.23 Z" stroke="#000" stroke-width="1" fill="#1ee01e"/><path d="M644.99,638.78 L649.38,647.18 L640.59,647.18 Z" stroke="#000" stroke-width="1" fill="#1ee01e"/><path d="M656.62,640.38 L661.02,648.78 L652.22,648.78 Z" stroke="#000" stroke-width="1" fill="#1ee01e"/><path d="M664.23,641.01 L668.63,649.41 L659.83,649.41 Z" stroke="#000" stroke-width="1" fill="#1ee01e"/><path d="M674.97,641.97 L679.37,650.37 L670.57,650.37 Z" stroke="#000" stroke-width="1" fill="#1ee01e"/><path d="M681.23,642.29 L685.63,650.69 L676.83,650.69 Z" stroke="#000" stroke-width="1" fill="#1ee01e"/>
<path d="M497.89,416.61 C505.96,416.61 514.03,416.61 522.10,416.61 C529.80,416.61 537.50,417.42 545.19,417.88 C548.52,418.08 551.85,418.33 555.17,418.52 C561.54,418.88 567.91,418.96 574.28,419.47 C578.52,419.82 582.75,420.91 586.99,421.70 C592.75,422.78 598.50,423.43 604.26,425.20 C609.27,426.75 614.29,430.26 619.30,434.43 C625.18,439.33 631.05,447.12 636.93,457.99 C641.11,465.72 645.28,478.40 649.46,493.32 C654.74,512.19 660.02,548.79 665.30,572.90 C668.23,586.25 671.15,602.25 674.07,610.14 C678.10,621.02 682.13,628.98 686.15,633.38 C689.88,637.45 693.61,640.00 697.34,641.97 C699.36,643.04 701.37,643.73 703.38,644.52 C705.70,645.43 708.01,646.23 710.32,647.07 C711.21,647.39 712.11,647.85 713.00,648.02 C715.84,648.55 718.67,648.79 721.51,648.98 C723.75,649.12 725.98,649.21 728.22,649.30 C731.35,649.42 734.49,649.61 737.62,649.61 C739.56,649.61 741.50,649.61 743.43,649.61" stroke="#0000d0" stroke-width="2.90" fill="none" stroke-linejoin="round" stroke-linecap="round"/>
<path d="M522.10,411.31 L526.00,416.61 L522.10,421.91 L518.20,416.61 Z" stroke="#000" stroke-width="1" fill="#0000d0"/><path d="M545.19,412.58 L549.09,417.88 L545.19,423.18 L541.29,417.88 Z" stroke="#000" stroke-width="1" fill="#0000d0"/><path d="M555.17,413.22 L559.07,418.52 L555.17,423.82 L551.27,418.52 Z" stroke="#000" stroke-width="1" fill="#0000d0"/><path d="M574.28,414.17 L578.18,419.47 L574.28,424.77 L570.38,419.47 Z" stroke="#000" stroke-width="1" fill="#0000d0"/><path d="M586.99,416.40 L590.89,421.70 L586.99,427.00 L583.09,421.70 Z" stroke="#000" stroke-width="1" fill="#0000d0"/><path d="M604.26,419.90 L608.16,425.20 L604.26,430.50 L600.36,425.20 Z" stroke="#000" stroke-width="1" fill="#0000d0"/><path d="M619.30,429.13 L623.20,434.43 L619.30,439.73 L615.40,434.43 Z" stroke="#000" stroke-width="1" fill="#0000d0"/><path d="M636.93,452.69 L640.83,457.99 L636.93,463.29 L633.03,457.99 Z" stroke="#000" stroke-width="1" fill="#0000d0"/><path d="M649.46,488.02 L653.36,493.32 L649.46,498.62 L645.56,493.32 Z" stroke="#000" stroke-width="1" fill="#0000d0"/><path d="M665.30,567.60 L669.20,572.90 L665.30,578.20 L661.40,572.90 Z" stroke="#000" stroke-width="1" fill="#0000d0"/><path d="M674.07,604.84 L677.97,610.14 L674.07,615.44 L670.17,610.14 Z" stroke="#000" stroke-width="1" fill="#0000d0"/><path d="M686.15,628.08 L690.05,633.38 L686.15,638.68 L682.25,633.38 Z" stroke="#000" stroke-width="1" fill="#0000d0"/><path d="M697.34,636.67 L701.24,641.97 L697.34,647.27 L693.44,641.97 Z" stroke="#000" stroke-width="1" fill="#0000d0"/><path d="M703.38,639.22 L707.28,644.52 L703.38,649.82 L699.48,644.52 Z" stroke="#000" stroke-width="1" fill="#0000d0"/><path d="M710.32,641.77 L714.22,647.07 L710.32,652.37 L706.42,647.07 Z" stroke="#000" stroke-width="1" fill="#0000d0"/><path d="M713.00,642.72 L716.90,648.02 L713.00,653.32 L709.11,648.02 Z" stroke="#000" stroke-width="1" fill="#0000d0"/><path d="M721.51,643.68 L725.41,648.98 L721.51,654.28 L717.61,648.98 Z" stroke="#000" stroke-width="1" fill="#0000d0"/><path d="M728.22,644.00 L732.12,649.30 L728.22,654.60 L724.32,649.30 Z" stroke="#000" stroke-width="1" fill="#0000d0"/><path d="M737.62,644.31 L741.52,649.61 L737.62,654.91 L733.72,649.61 Z" stroke="#000" stroke-width="1" fill="#0000d0"/><path d="M743.43,644.31 L747.33,649.61 L743.43,654.91 L739.53,649.61 Z" stroke="#000" stroke-width="1" fill="#0000d0"/>
<path d="M497.89,427.75 L513.45,441.12 L523.00,456.40 C530.56,468.17 538.12,478.07 545.68,490.46 C549.29,496.37 552.90,503.86 556.51,509.56 C562.09,518.36 567.67,526.07 573.25,533.11 C576.73,537.50 580.20,540.58 583.68,545.21 C587.65,550.49 591.61,557.87 595.58,563.99 C599.52,570.06 603.46,576.44 607.39,581.81 C612.02,588.12 616.64,593.33 621.27,599.00 C624.85,603.39 628.43,608.02 632.01,612.05 C636.48,617.09 640.96,622.63 645.43,626.06 C647.97,628.00 650.50,629.39 653.04,630.83 C656.56,632.83 660.08,634.74 663.60,636.24 C667.39,637.86 671.18,639.20 674.97,640.38 C677.65,641.22 680.34,641.97 683.02,642.61 C687.20,643.60 691.38,644.34 695.55,645.16 C697.79,645.59 700.03,646.12 702.26,646.43 C706.37,647.00 710.47,647.33 714.57,647.70 C717.18,647.94 719.79,648.19 722.40,648.34 C726.13,648.55 729.86,648.63 733.59,648.82 C735.45,648.91 737.32,649.03 739.18,649.14" stroke="#ee0000" stroke-width="2.90" fill="none" stroke-linejoin="round" stroke-linecap="round"/>
<rect x="520.00" y="453.40" width="6.00" height="6.00" stroke="#000" stroke-width="1" fill="#ee0000"/><rect x="542.68" y="487.46" width="6.00" height="6.00" stroke="#000" stroke-width="1" fill="#ee0000"/><rect x="553.51" y="506.56" width="6.00" height="6.00" stroke="#000" stroke-width="1" fill="#ee0000"/><rect x="570.25" y="530.11" width="6.00" height="6.00" stroke="#000" stroke-width="1" fill="#ee0000"/><rect x="580.68" y="542.21" width="6.00" height="6.00" stroke="#000" stroke-width="1" fill="#ee0000"/><rect x="592.58" y="560.99" width="6.00" height="6.00" stroke="#000" stroke-width="1" fill="#ee0000"/><rect x="604.39" y="578.81" width="6.00" height="6.00" stroke="#000" stroke-width="1" fill="#ee0000"/><rect x="618.27" y="596.00" width="6.00" height="6.00" stroke="#000" stroke-width="1" fill="#ee0000"/><rect x="629.01" y="609.05" width="6.00" height="6.00" stroke="#000" stroke-width="1" fill="#ee0000"/><rect x="642.43" y="623.06" width="6.00" height="6.00" stroke="#000" stroke-width="1" fill="#ee0000"/><rect x="650.04" y="627.83" width="6.00" height="6.00" stroke="#000" stroke-width="1" fill="#ee0000"/><rect x="660.60" y="633.24" width="6.00" height="6.00" stroke="#000" stroke-width="1" fill="#ee0000"/><rect x="671.97" y="637.38" width="6.00" height="6.00" stroke="#000" stroke-width="1" fill="#ee0000"/><rect x="680.02" y="639.61" width="6.00" height="6.00" stroke="#000" stroke-width="1" fill="#ee0000"/><rect x="692.55" y="642.16" width="6.00" height="6.00" stroke="#000" stroke-width="1" fill="#ee0000"/><rect x="699.26" y="643.43" width="6.00" height="6.00" stroke="#000" stroke-width="1" fill="#ee0000"/><rect x="711.57" y="644.70" width="6.00" height="6.00" stroke="#000" stroke-width="1" fill="#ee0000"/><rect x="719.40" y="645.34" width="6.00" height="6.00" stroke="#000" stroke-width="1" fill="#ee0000"/><rect x="730.59" y="645.82" width="6.00" height="6.00" stroke="#000" stroke-width="1" fill="#ee0000"/><rect x="736.18" y="646.14" width="6.00" height="6.00" stroke="#000" stroke-width="1" fill="#ee0000"/>
<path d="M490.15,428.70 L503.57,441.12 L511.81,452.90 C517.27,461.74 522.73,474.73 528.19,484.73 C530.42,488.82 532.66,492.21 534.90,496.51 C538.72,503.84 542.54,513.30 546.36,521.33 C549.10,527.11 551.85,532.71 554.59,538.20 C557.80,544.62 561.00,550.11 564.21,556.98 C567.12,563.22 570.03,571.37 572.94,577.67 C576.52,585.44 580.10,592.63 583.68,599.00 C586.29,603.64 588.90,607.97 591.51,611.73 C595.16,617.00 598.82,622.33 602.47,625.74 C604.56,627.69 606.65,629.13 608.74,630.51 C611.87,632.59 615.00,634.44 618.13,635.93 C621.57,637.55 625.00,638.86 628.43,640.06 C631.11,641.01 633.80,641.89 636.48,642.61 C640.21,643.61 643.94,644.49 647.67,645.16 C649.76,645.53 651.85,645.84 653.94,646.11 C657.81,646.61 661.69,647.02 665.57,647.39 C668.11,647.62 670.64,647.84 673.18,648.02 C676.76,648.27 680.34,648.46 683.92,648.66 C686.01,648.77 688.09,648.87 690.18,648.98" stroke="#cdc830" stroke-width="2.90" fill="none" stroke-linejoin="round" stroke-linecap="round"/>
<polygon points="511.81,447.50 512.79,451.12 516.06,451.09 513.40,453.30 514.44,456.90 511.81,454.65 509.18,456.90 510.21,453.30 507.56,451.09 510.82,451.12" stroke="#000" stroke-width="1" fill="#cdc830"/><polygon points="528.19,479.33 529.17,482.95 532.44,482.92 529.78,485.13 530.82,488.73 528.19,486.48 525.56,488.73 526.59,485.13 523.93,482.92 527.20,482.95" stroke="#000" stroke-width="1" fill="#cdc830"/><polygon points="534.90,491.11 535.89,494.73 539.15,494.70 536.49,496.91 537.53,500.51 534.90,498.26 532.27,500.51 533.31,496.91 530.65,494.70 533.91,494.73" stroke="#000" stroke-width="1" fill="#cdc830"/><polygon points="546.36,515.93 547.34,519.56 550.61,519.53 547.95,521.74 548.98,525.34 546.36,523.08 543.73,525.34 544.76,521.74 542.10,519.53 545.37,519.56" stroke="#000" stroke-width="1" fill="#cdc830"/><polygon points="554.59,532.80 555.58,536.43 558.84,536.40 556.18,538.61 557.22,542.21 554.59,539.95 551.96,542.21 553.00,538.61 550.34,536.40 553.60,536.43" stroke="#000" stroke-width="1" fill="#cdc830"/><polygon points="564.21,551.58 565.20,555.21 568.46,555.18 565.81,557.39 566.84,560.99 564.21,558.73 561.58,560.99 562.62,557.39 559.96,555.18 563.23,555.21" stroke="#000" stroke-width="1" fill="#cdc830"/><polygon points="572.94,572.27 573.92,575.90 577.19,575.87 574.53,578.08 575.57,581.68 572.94,579.42 570.31,581.68 571.34,578.08 568.68,575.87 571.95,575.90" stroke="#000" stroke-width="1" fill="#cdc830"/><polygon points="583.68,593.60 584.66,597.22 587.93,597.19 585.27,599.40 586.31,603.01 583.68,600.75 581.05,603.01 582.08,599.40 579.42,597.19 582.69,597.22" stroke="#000" stroke-width="1" fill="#cdc830"/><polygon points="591.51,606.33 592.49,609.96 595.76,609.93 593.10,612.14 594.14,615.74 591.51,613.48 588.88,615.74 589.91,612.14 587.26,609.93 590.52,609.96" stroke="#000" stroke-width="1" fill="#cdc830"/><polygon points="602.47,620.34 603.46,623.96 606.73,623.93 604.07,626.14 605.10,629.75 602.47,627.49 599.84,629.75 600.88,626.14 598.22,623.93 601.49,623.96" stroke="#000" stroke-width="1" fill="#cdc830"/><polygon points="608.74,625.11 609.72,628.74 612.99,628.71 610.33,630.92 611.37,634.52 608.74,632.26 606.11,634.52 607.14,630.92 604.48,628.71 607.75,628.74" stroke="#000" stroke-width="1" fill="#cdc830"/><polygon points="618.13,630.53 619.12,634.15 622.39,634.12 619.73,636.33 620.76,639.93 618.13,637.68 615.51,639.93 616.54,636.33 613.88,634.12 617.15,634.15" stroke="#000" stroke-width="1" fill="#cdc830"/><polygon points="628.43,634.66 629.41,638.29 632.68,638.26 630.02,640.47 631.06,644.07 628.43,641.81 625.80,644.07 626.83,640.47 624.17,638.26 627.44,638.29" stroke="#000" stroke-width="1" fill="#cdc830"/><polygon points="636.48,637.21 637.47,640.83 640.74,640.80 638.08,643.01 639.11,646.62 636.48,644.36 633.85,646.62 634.89,643.01 632.23,640.80 635.50,640.83" stroke="#000" stroke-width="1" fill="#cdc830"/><polygon points="647.67,639.76 648.66,643.38 651.92,643.35 649.26,645.56 650.30,649.16 647.67,646.91 645.04,649.16 646.08,645.56 643.42,643.35 646.68,643.38" stroke="#000" stroke-width="1" fill="#cdc830"/><polygon points="653.94,640.71 654.92,644.33 658.19,644.31 655.53,646.51 656.56,650.12 653.94,647.86 651.31,650.12 652.34,646.51 649.68,644.31 652.95,644.33" stroke="#000" stroke-width="1" fill="#cdc830"/><polygon points="665.57,641.99 666.56,645.61 669.82,645.58 667.16,647.79 668.20,651.39 665.57,649.14 662.94,651.39 663.98,647.79 661.32,645.58 664.58,645.61" stroke="#000" stroke-width="1" fill="#cdc830"/><polygon points="673.18,642.62 674.16,646.24 677.43,646.21 674.77,648.42 675.81,652.03 673.18,649.77 670.55,652.03 671.58,648.42 668.92,646.21 672.19,646.24" stroke="#000" stroke-width="1" fill="#cdc830"/><polygon points="683.92,643.26 684.90,646.88 688.17,646.85 685.51,649.06 686.55,652.67 683.92,650.41 681.29,652.67 682.32,649.06 679.66,646.85 682.93,646.88" stroke="#000" stroke-width="1" fill="#cdc830"/><polygon points="690.18,643.58 691.17,647.20 694.44,647.17 691.78,649.38 692.81,652.98 690.18,650.73 687.55,652.98 688.59,649.38 685.93,647.17 689.20,647.20" stroke="#000" stroke-width="1" fill="#cdc830"/>
<path d="M441.5,650.2 v-2 M441.5,395.6 v2 M449.5,650.2 v-2 M449.5,395.6 v2 M454.5,650.2 v-2 M454.5,395.6 v2 M458.5,650.2 v-2 M458.5,395.6 v2 M462.5,650.2 v-2 M462.5,395.6 v2 M465.5,650.2 v-2 M465.5,395.6 v2 M468.5,650.2 v-2 M468.5,395.6 v2 M470.5,650.2 v-2 M470.5,395.6 v2 M472.5,650.2 v-4 M472.5,395.6 v4 M485.5,650.2 v-2 M485.5,395.6 v2 M493.5,650.2 v-2 M493.5,395.6 v2 M499.5,650.2 v-2 M499.5,395.6 v2 M503.5,650.2 v-2 M503.5,395.6 v2 M507.5,650.2 v-2 M507.5,395.6 v2 M510.5,650.2 v-2 M510.5,395.6 v2 M512.5,650.2 v-2 M512.5,395.6 v2 M515.5,650.2 v-2 M515.5,395.6 v2 M517.5,650.2 v-4 M517.5,395.6 v4 M530.5,650.2 v-2 M530.5,395.6 v2 M538.5,650.2 v-2 M538.5,395.6 v2 M544.5,650.2 v-2 M544.5,395.6 v2 M548.5,650.2 v-2 M548.5,395.6 v2 M552.5,650.2 v-2 M552.5,395.6 v2 M555.5,650.2 v-2 M555.5,395.6 v2 M557.5,650.2 v-2 M557.5,395.6 v2 M559.5,650.2 v-2 M559.5,395.6 v2 M561.5,650.2 v-4 M561.5,395.6 v4 M575.5,650.2 v-2 M575.5,395.6 v2 M583.5,650.2 v-2 M583.5,395.6 v2 M588.5,650.2 v-2 M588.5,395.6 v2 M593.5,650.2 v-2 M593.5,395.6 v2 M596.5,650.2 v-2 M596.5,395.6 v2 M599.5,650.2 v-2 M599.5,395.6 v2 M602.5,650.2 v-2 M602.5,395.6 v2 M604.5,650.2 v-2 M604.5,395.6 v2 M606.5,650.2 v-4 M606.5,395.6 v4 M620.5,650.2 v-2 M620.5,395.6 v2 M628.5,650.2 v-2 M628.5,395.6 v2 M633.5,650.2 v-2 M633.5,395.6 v2 M637.5,650.2 v-2 M637.5,395.6 v2 M641.5,650.2 v-2 M641.5,395.6 v2 M644.5,650.2 v-2 M644.5,395.6 v2 M647.5,650.2 v-2 M647.5,395.6 v2 M649.5,650.2 v-2 M649.5,395.6 v2 M651.5,650.2 v-4 M651.5,395.6 v4 M664.5,650.2 v-2 M664.5,395.6 v2 M672.5,650.2 v-2 M672.5,395.6 v2 M678.5,650.2 v-2 M678.5,395.6 v2 M682.5,650.2 v-2 M682.5,395.6 v2 M686.5,650.2 v-2 M686.5,395.6 v2 M689.5,650.2 v-2 M689.5,395.6 v2 M691.5,650.2 v-2 M691.5,395.6 v2 M694.5,650.2 v-2 M694.5,395.6 v2 M696.5,650.2 v-4 M696.5,395.6 v4 M709.5,650.2 v-2 M709.5,395.6 v2 M717.5,650.2 v-2 M717.5,395.6 v2 M723.5,650.2 v-2 M723.5,395.6 v2 M727.5,650.2 v-2 M727.5,395.6 v2 M731.5,650.2 v-2 M731.5,395.6 v2 M734.5,650.2 v-2 M734.5,395.6 v2 M736.5,650.2 v-2 M736.5,395.6 v2 M738.5,650.2 v-2 M738.5,395.6 v2 M740.5,650.2 v-4 M740.5,395.6 v4 M754.5,650.2 v-2 M754.5,395.6 v2 M762.5,650.2 v-2 M762.5,395.6 v2 M767.5,650.2 v-2 M767.5,395.6 v2 M772.5,650.2 v-2 M772.5,395.6 v2 M775.5,650.2 v-2 M775.5,395.6 v2 M778.5,650.2 v-2 M778.5,395.6 v2 M781.5,650.2 v-2 M781.5,395.6 v2 M783.5,650.2 v-2 M783.5,395.6 v2 M427.5,619.5 h4 M785.5,619.5 h-4 M427.5,587.5 h4 M785.5,587.5 h-4 M427.5,555.5 h4 M785.5,555.5 h-4 M427.5,523.5 h4 M785.5,523.5 h-4 M427.5,491.5 h4 M785.5,491.5 h-4 M427.5,459.5 h4 M785.5,459.5 h-4 M427.5,427.5 h4 M785.5,427.5 h-4" stroke="#000" stroke-width="1" fill="none"/>
<rect x="427.5" y="395.6" width="358.0" height="254.6" stroke="#000" stroke-width="1.1" fill="none"/>
<g font-family="Liberation Sans, sans-serif" font-size="15.6" fill="#000"><text transform="translate(426.30,655.95) scale(0.92,1)" text-anchor="end" font-size="16">0</text><text transform="translate(426.30,624.12) scale(0.92,1)" text-anchor="end" font-size="16">1</text><text transform="translate(426.30,592.29) scale(0.92,1)" text-anchor="end" font-size="16">2</text><text transform="translate(426.30,560.46) scale(0.92,1)" text-anchor="end" font-size="16">3</text><text transform="translate(426.30,528.62) scale(0.92,1)" text-anchor="end" font-size="16">4</text><text transform="translate(426.30,496.79) scale(0.92,1)" text-anchor="end" font-size="16">5</text><text transform="translate(426.30,464.96) scale(0.92,1)" text-anchor="end" font-size="16">6</text><text transform="translate(426.30,433.13) scale(0.92,1)" text-anchor="end" font-size="16">7</text><text transform="translate(426.30,401.30) scale(0.92,1)" text-anchor="end" font-size="16">8</text><text transform="translate(428.30,670.85) scale(0.93,1)" text-anchor="middle" font-size="15.2">10<tspan dy="-8.6" dx="0" font-size="10.2">0</tspan></text><text transform="translate(473.05,670.85) scale(0.93,1)" text-anchor="middle" font-size="15.2">10<tspan dy="-8.6" dx="0" font-size="10.2">1</tspan></text><text transform="translate(517.80,670.85) scale(0.93,1)" text-anchor="middle" font-size="15.2">10<tspan dy="-8.6" dx="0" font-size="10.2">2</tspan></text><text transform="translate(562.55,670.85) scale(0.93,1)" text-anchor="middle" font-size="15.2">10<tspan dy="-8.6" dx="0" font-size="10.2">3</tspan></text><text transform="translate(607.30,670.85) scale(0.93,1)" text-anchor="middle" font-size="15.2">10<tspan dy="-8.6" dx="0" font-size="10.2">4</tspan></text><text transform="translate(652.05,670.85) scale(0.93,1)" text-anchor="middle" font-size="15.2">10<tspan dy="-8.6" dx="0" font-size="10.2">5</tspan></text><text transform="translate(696.80,670.85) scale(0.93,1)" text-anchor="middle" font-size="15.2">10<tspan dy="-8.6" dx="0" font-size="10.2">6</tspan></text><text transform="translate(741.55,670.85) scale(0.93,1)" text-anchor="middle" font-size="15.2">10<tspan dy="-8.6" dx="0" font-size="10.2">7</tspan></text><text transform="translate(786.30,670.85) scale(0.93,1)" text-anchor="middle" font-size="15.2">10<tspan dy="-8.6" dx="0" font-size="10.2">8</tspan></text></g>
<path d="M860.50,395.00 V650.25 M904.50,395.00 V650.25 M948.50,395.00 V650.25 M992.50,395.00 V650.25 M1036.50,395.00 V650.25 M1079.50,395.00 V650.25 M1123.50,395.00 V650.25 M816.00,608.50 H1167.50 M816.00,565.50 H1167.50 M816.00,523.50 H1167.50 M816.00,480.50 H1167.50 M816.00,437.50 H1167.50" stroke="#a6a6a6" stroke-width="1" stroke-dasharray="1 2" fill="none"/>
<path d="M895.48,421.06 C902.55,430.90 909.63,436.77 916.71,450.56 C922.06,460.99 927.42,480.21 932.77,500.01 L935.53,511.68 L939.35,513.38 C943.09,515.67 946.84,522.21 950.58,528.02 C953.27,532.19 955.96,538.00 958.65,543.08 C961.80,549.02 964.94,554.74 968.09,561.12 C970.94,566.91 973.79,573.98 976.64,579.58 C980.15,586.48 983.66,592.66 987.17,598.47 C989.73,602.71 992.29,606.80 994.85,610.35 C998.44,615.33 1002.02,619.95 1005.60,623.72 C1007.65,625.88 1009.70,627.87 1011.74,629.45 C1014.81,631.82 1017.89,633.61 1020.96,635.40 C1024.32,637.35 1027.68,639.44 1031.05,640.70 C1033.68,641.69 1036.31,642.35 1038.95,643.03 C1042.60,643.99 1046.26,644.78 1049.91,645.58 C1051.96,646.03 1054.01,646.58 1056.06,646.85 C1059.86,647.36 1063.66,647.58 1067.46,647.92 C1069.95,648.14 1072.44,648.41 1074.92,648.55 C1078.43,648.75 1081.94,648.85 1085.45,648.98 C1087.50,649.05 1089.55,649.12 1091.60,649.19" stroke="#1ee01e" stroke-width="2.90" fill="none" stroke-linejoin="round" stroke-linecap="round"/>
<path d="M916.71,445.46 L921.11,453.86 L912.31,453.86 Z" stroke="#000" stroke-width="1" fill="#1ee01e"/><path d="M932.77,494.91 L937.17,503.31 L928.37,503.31 Z" stroke="#000" stroke-width="1" fill="#1ee01e"/><path d="M939.35,508.28 L943.75,516.68 L934.95,516.68 Z" stroke="#000" stroke-width="1" fill="#1ee01e"/><path d="M950.58,522.92 L954.98,531.32 L946.18,531.32 Z" stroke="#000" stroke-width="1" fill="#1ee01e"/><path d="M958.65,537.98 L963.05,546.38 L954.25,546.38 Z" stroke="#000" stroke-width="1" fill="#1ee01e"/><path d="M968.09,556.02 L972.49,564.42 L963.69,564.42 Z" stroke="#000" stroke-width="1" fill="#1ee01e"/><path d="M976.64,574.48 L981.04,582.88 L972.24,582.88 Z" stroke="#000" stroke-width="1" fill="#1ee01e"/><path d="M987.17,593.37 L991.57,601.77 L982.77,601.77 Z" stroke="#000" stroke-width="1" fill="#1ee01e"/><path d="M994.85,605.25 L999.25,613.65 L990.45,613.65 Z" stroke="#000" stroke-width="1" fill="#1ee01e"/><path d="M1005.60,618.62 L1010.00,627.02 L1001.20,627.02 Z" stroke="#000" stroke-width="1" fill="#1ee01e"/><path d="M1011.74,624.35 L1016.14,632.75 L1007.34,632.75 Z" stroke="#000" stroke-width="1" fill="#1ee01e"/><path d="M1020.96,630.30 L1025.36,638.70 L1016.56,638.70 Z" stroke="#000" stroke-width="1" fill="#1ee01e"/><path d="M1031.05,635.60 L1035.45,644.00 L1026.65,644.00 Z" stroke="#000" stroke-width="1" fill="#1ee01e"/><path d="M1038.95,637.93 L1043.35,646.33 L1034.55,646.33 Z" stroke="#000" stroke-width="1" fill="#1ee01e"/><path d="M1049.91,640.48 L1054.32,648.88 L1045.51,648.88 Z" stroke="#000" stroke-width="1" fill="#1ee01e"/><path d="M1056.06,641.75 L1060.46,650.15 L1051.66,650.15 Z" stroke="#000" stroke-width="1" fill="#1ee01e"/><path d="M1067.46,642.82 L1071.87,651.22 L1063.06,651.22 Z" stroke="#000" stroke-width="1" fill="#1ee01e"/><path d="M1074.92,643.45 L1079.32,651.85 L1070.52,651.85 Z" stroke="#000" stroke-width="1" fill="#1ee01e"/><path d="M1085.45,643.88 L1089.85,652.28 L1081.05,652.28 Z" stroke="#000" stroke-width="1" fill="#1ee01e"/><path d="M1091.60,644.09 L1096.00,652.49 L1087.20,652.49 Z" stroke="#000" stroke-width="1" fill="#1ee01e"/>
<path d="M904.47,410.45 C912.07,410.45 919.68,410.45 927.28,410.45 C933.94,410.45 940.59,410.67 947.25,410.88 C950.17,410.97 953.10,411.16 956.02,411.30 C961.35,411.57 966.67,411.93 971.99,412.15 C976.03,412.32 980.07,412.45 984.10,412.58 C989.13,412.73 994.16,412.81 999.20,413.00 C1003.86,413.18 1008.53,413.41 1013.19,413.85 C1018.34,414.33 1023.49,415.71 1028.64,417.25 C1032.51,418.40 1036.39,419.94 1040.26,422.34 C1045.34,425.48 1050.41,431.07 1055.49,439.53 C1058.12,443.92 1060.75,452.91 1063.38,460.96 C1067.29,472.89 1071.19,487.05 1075.10,502.77 C1079.66,521.13 1084.23,546.81 1088.79,566.43 C1092.02,580.32 1095.25,596.45 1098.48,605.47 C1103.46,619.36 1108.43,630.00 1113.40,636.24 C1116.08,639.61 1118.75,642.08 1121.43,643.88 C1124.43,645.91 1127.43,647.83 1130.43,648.55 C1132.11,648.96 1133.79,649.26 1135.47,649.40 C1138.25,649.63 1141.03,649.83 1143.81,649.83 C1144.98,649.83 1146.15,649.83 1147.32,649.83" stroke="#0000d0" stroke-width="2.90" fill="none" stroke-linejoin="round" stroke-linecap="round"/>
<path d="M927.28,405.15 L931.18,410.45 L927.28,415.75 L923.38,410.45 Z" stroke="#000" stroke-width="1" fill="#0000d0"/><path d="M947.25,405.58 L951.15,410.88 L947.25,416.18 L943.35,410.88 Z" stroke="#000" stroke-width="1" fill="#0000d0"/><path d="M956.02,406.00 L959.92,411.30 L956.02,416.60 L952.12,411.30 Z" stroke="#000" stroke-width="1" fill="#0000d0"/><path d="M971.99,406.85 L975.89,412.15 L971.99,417.45 L968.09,412.15 Z" stroke="#000" stroke-width="1" fill="#0000d0"/><path d="M984.10,407.28 L988.00,412.58 L984.10,417.88 L980.20,412.58 Z" stroke="#000" stroke-width="1" fill="#0000d0"/><path d="M999.20,407.70 L1003.10,413.00 L999.20,418.30 L995.30,413.00 Z" stroke="#000" stroke-width="1" fill="#0000d0"/><path d="M1013.19,408.55 L1017.09,413.85 L1013.19,419.15 L1009.29,413.85 Z" stroke="#000" stroke-width="1" fill="#0000d0"/><path d="M1028.64,411.95 L1032.54,417.25 L1028.64,422.55 L1024.74,417.25 Z" stroke="#000" stroke-width="1" fill="#0000d0"/><path d="M1040.26,417.04 L1044.16,422.34 L1040.26,427.64 L1036.36,422.34 Z" stroke="#000" stroke-width="1" fill="#0000d0"/><path d="M1055.49,434.23 L1059.39,439.53 L1055.49,444.83 L1051.59,439.53 Z" stroke="#000" stroke-width="1" fill="#0000d0"/><path d="M1063.38,455.66 L1067.28,460.96 L1063.38,466.26 L1059.48,460.96 Z" stroke="#000" stroke-width="1" fill="#0000d0"/><path d="M1075.10,497.47 L1079.00,502.77 L1075.10,508.07 L1071.20,502.77 Z" stroke="#000" stroke-width="1" fill="#0000d0"/><path d="M1088.79,561.13 L1092.69,566.43 L1088.79,571.73 L1084.89,566.43 Z" stroke="#000" stroke-width="1" fill="#0000d0"/><path d="M1098.48,600.17 L1102.38,605.47 L1098.48,610.77 L1094.58,605.47 Z" stroke="#000" stroke-width="1" fill="#0000d0"/><path d="M1113.40,630.94 L1117.30,636.24 L1113.40,641.54 L1109.50,636.24 Z" stroke="#000" stroke-width="1" fill="#0000d0"/><path d="M1121.43,638.58 L1125.33,643.88 L1121.43,649.18 L1117.53,643.88 Z" stroke="#000" stroke-width="1" fill="#0000d0"/><path d="M1130.43,643.25 L1134.33,648.55 L1130.43,653.85 L1126.53,648.55 Z" stroke="#000" stroke-width="1" fill="#0000d0"/><path d="M1135.47,644.10 L1139.37,649.40 L1135.47,654.70 L1131.57,649.40 Z" stroke="#000" stroke-width="1" fill="#0000d0"/><path d="M1143.81,644.53 L1147.71,649.83 L1143.81,655.13 L1139.91,649.83 Z" stroke="#000" stroke-width="1" fill="#0000d0"/><path d="M1147.32,644.53 L1151.22,649.83 L1147.32,655.13 L1143.42,649.83 Z" stroke="#000" stroke-width="1" fill="#0000d0"/>
<path d="M904.47,418.52 L919.18,426.16 L928.21,435.07 C934.85,441.93 941.49,447.99 948.12,456.93 C951.20,461.06 954.27,466.49 957.34,472.00 C963.39,482.84 969.45,496.95 975.50,508.92 C979.98,517.76 984.45,527.01 988.93,534.81 C994.49,544.49 1000.04,552.76 1005.60,561.12 C1010.52,568.51 1015.43,574.60 1020.34,582.34 C1024.35,588.66 1028.36,596.64 1032.37,603.14 C1035.22,607.77 1038.07,612.76 1040.92,616.30 C1044.80,621.11 1048.67,624.70 1052.55,628.18 C1054.45,629.89 1056.35,631.56 1058.25,632.85 C1061.40,634.98 1064.54,636.70 1067.68,638.15 C1071.12,639.74 1074.56,641.06 1077.99,642.19 C1080.73,643.08 1083.46,643.89 1086.20,644.52 C1090.29,645.47 1094.39,646.06 1098.48,646.85 C1100.28,647.20 1102.08,647.71 1103.88,647.92 C1107.68,648.35 1111.49,648.53 1115.29,648.76 C1117.92,648.93 1120.55,649.11 1123.19,649.19 C1126.55,649.29 1129.91,649.31 1133.28,649.40 C1135.33,649.46 1137.37,649.54 1139.42,649.61" stroke="#ee0000" stroke-width="2.90" fill="none" stroke-linejoin="round" stroke-linecap="round"/>
<rect x="925.21" y="432.07" width="6.00" height="6.00" stroke="#000" stroke-width="1" fill="#ee0000"/><rect x="945.12" y="453.93" width="6.00" height="6.00" stroke="#000" stroke-width="1" fill="#ee0000"/><rect x="954.34" y="469.00" width="6.00" height="6.00" stroke="#000" stroke-width="1" fill="#ee0000"/><rect x="972.50" y="505.92" width="6.00" height="6.00" stroke="#000" stroke-width="1" fill="#ee0000"/><rect x="985.93" y="531.81" width="6.00" height="6.00" stroke="#000" stroke-width="1" fill="#ee0000"/><rect x="1002.60" y="558.12" width="6.00" height="6.00" stroke="#000" stroke-width="1" fill="#ee0000"/><rect x="1017.34" y="579.34" width="6.00" height="6.00" stroke="#000" stroke-width="1" fill="#ee0000"/><rect x="1029.37" y="600.14" width="6.00" height="6.00" stroke="#000" stroke-width="1" fill="#ee0000"/><rect x="1037.92" y="613.30" width="6.00" height="6.00" stroke="#000" stroke-width="1" fill="#ee0000"/><rect x="1049.55" y="625.18" width="6.00" height="6.00" stroke="#000" stroke-width="1" fill="#ee0000"/><rect x="1055.25" y="629.85" width="6.00" height="6.00" stroke="#000" stroke-width="1" fill="#ee0000"/><rect x="1064.68" y="635.15" width="6.00" height="6.00" stroke="#000" stroke-width="1" fill="#ee0000"/><rect x="1074.99" y="639.19" width="6.00" height="6.00" stroke="#000" stroke-width="1" fill="#ee0000"/><rect x="1083.20" y="641.52" width="6.00" height="6.00" stroke="#000" stroke-width="1" fill="#ee0000"/><rect x="1095.48" y="643.85" width="6.00" height="6.00" stroke="#000" stroke-width="1" fill="#ee0000"/><rect x="1100.88" y="644.92" width="6.00" height="6.00" stroke="#000" stroke-width="1" fill="#ee0000"/><rect x="1112.29" y="645.76" width="6.00" height="6.00" stroke="#000" stroke-width="1" fill="#ee0000"/><rect x="1120.19" y="646.19" width="6.00" height="6.00" stroke="#000" stroke-width="1" fill="#ee0000"/><rect x="1130.28" y="646.40" width="6.00" height="6.00" stroke="#000" stroke-width="1" fill="#ee0000"/><rect x="1136.42" y="646.61" width="6.00" height="6.00" stroke="#000" stroke-width="1" fill="#ee0000"/>
<path d="M899.86,418.52 L913.02,426.16 L921.10,435.07 C926.45,441.52 931.80,447.45 937.16,456.93 C939.35,460.81 941.54,467.32 943.74,472.00 C947.48,479.97 951.23,486.12 954.97,494.06 C957.66,499.78 960.35,506.28 963.04,512.53 C966.19,519.83 969.33,526.91 972.48,534.81 C975.33,541.98 978.18,550.17 981.03,557.73 C984.54,567.03 988.05,576.82 991.56,585.31 C994.12,591.51 996.68,598.04 999.24,602.72 C1002.82,609.26 1006.41,614.26 1009.99,618.84 C1012.04,621.46 1014.08,624.06 1016.13,625.85 C1019.20,628.53 1022.27,630.42 1025.35,632.21 C1028.71,634.18 1032.07,635.93 1035.44,637.31 C1038.07,638.38 1040.70,639.26 1043.33,640.06 C1046.99,641.19 1050.65,642.28 1054.30,643.03 C1056.35,643.46 1058.40,643.77 1060.44,644.10 C1064.25,644.71 1068.05,645.24 1071.85,645.79 C1074.34,646.15 1076.83,646.56 1079.31,646.85 C1082.82,647.27 1086.33,647.63 1089.84,647.92 C1091.89,648.08 1093.94,648.20 1095.98,648.34" stroke="#cdc830" stroke-width="2.90" fill="none" stroke-linejoin="round" stroke-linecap="round"/>
<polygon points="921.10,429.67 922.08,433.29 925.35,433.26 922.69,435.47 923.73,439.08 921.10,436.82 918.47,439.08 919.50,435.47 916.84,433.26 920.11,433.29" stroke="#000" stroke-width="1" fill="#cdc830"/><polygon points="937.16,451.53 938.14,455.15 941.41,455.12 938.75,457.33 939.78,460.94 937.16,458.68 934.53,460.94 935.56,457.33 932.90,455.12 936.17,455.15" stroke="#000" stroke-width="1" fill="#cdc830"/><polygon points="943.74,466.60 944.72,470.22 947.99,470.19 945.33,472.40 946.37,476.00 943.74,473.75 941.11,476.00 942.14,472.40 939.48,470.19 942.75,470.22" stroke="#000" stroke-width="1" fill="#cdc830"/><polygon points="954.97,488.66 955.96,492.29 959.22,492.26 956.56,494.47 957.60,498.07 954.97,495.81 952.34,498.07 953.37,494.47 950.72,492.26 953.98,492.29" stroke="#000" stroke-width="1" fill="#cdc830"/><polygon points="963.04,507.13 964.03,510.75 967.30,510.72 964.64,512.93 965.67,516.53 963.04,514.28 960.41,516.53 961.45,512.93 958.79,510.72 962.06,510.75" stroke="#000" stroke-width="1" fill="#cdc830"/><polygon points="972.48,529.41 973.46,533.03 976.73,533.00 974.07,535.21 975.10,538.82 972.48,536.56 969.85,538.82 970.88,535.21 968.22,533.00 971.49,533.03" stroke="#000" stroke-width="1" fill="#cdc830"/><polygon points="981.03,552.33 982.02,555.95 985.28,555.92 982.63,558.13 983.66,561.73 981.03,559.48 978.40,561.73 979.44,558.13 976.78,555.92 980.05,555.95" stroke="#000" stroke-width="1" fill="#cdc830"/><polygon points="991.56,579.91 992.55,583.54 995.81,583.51 993.16,585.72 994.19,589.32 991.56,587.06 988.93,589.32 989.97,585.72 987.31,583.51 990.58,583.54" stroke="#000" stroke-width="1" fill="#cdc830"/><polygon points="999.24,597.32 1000.23,600.94 1003.49,600.91 1000.83,603.12 1001.87,606.72 999.24,604.47 996.61,606.72 997.64,603.12 994.99,600.91 998.25,600.94" stroke="#000" stroke-width="1" fill="#cdc830"/><polygon points="1009.99,613.44 1010.97,617.07 1014.24,617.04 1011.58,619.25 1012.62,622.85 1009.99,620.59 1007.36,622.85 1008.39,619.25 1005.74,617.04 1009.00,617.07" stroke="#000" stroke-width="1" fill="#cdc830"/><polygon points="1016.13,620.45 1017.12,624.07 1020.38,624.04 1017.73,626.25 1018.76,629.85 1016.13,627.60 1013.50,629.85 1014.54,626.25 1011.88,624.04 1015.15,624.07" stroke="#000" stroke-width="1" fill="#cdc830"/><polygon points="1025.35,626.81 1026.33,630.43 1029.60,630.41 1026.94,632.61 1027.97,636.22 1025.35,633.96 1022.72,636.22 1023.75,632.61 1021.09,630.41 1024.36,630.43" stroke="#000" stroke-width="1" fill="#cdc830"/><polygon points="1035.44,631.91 1036.42,635.53 1039.69,635.50 1037.03,637.71 1038.06,641.31 1035.44,639.06 1032.81,641.31 1033.84,637.71 1031.18,635.50 1034.45,635.53" stroke="#000" stroke-width="1" fill="#cdc830"/><polygon points="1043.33,634.66 1044.32,638.29 1047.59,638.26 1044.93,640.47 1045.96,644.07 1043.33,641.81 1040.71,644.07 1041.74,640.47 1039.08,638.26 1042.35,638.29" stroke="#000" stroke-width="1" fill="#cdc830"/><polygon points="1054.30,637.63 1055.29,641.26 1058.56,641.23 1055.90,643.44 1056.93,647.04 1054.30,644.78 1051.67,647.04 1052.71,643.44 1050.05,641.23 1053.32,641.26" stroke="#000" stroke-width="1" fill="#cdc830"/><polygon points="1060.44,638.70 1061.43,642.32 1064.70,642.29 1062.04,644.50 1063.07,648.10 1060.44,645.85 1057.82,648.10 1058.85,644.50 1056.19,642.29 1059.46,642.32" stroke="#000" stroke-width="1" fill="#cdc830"/><polygon points="1071.85,640.39 1072.84,644.02 1076.11,643.99 1073.45,646.20 1074.48,649.80 1071.85,647.54 1069.22,649.80 1070.26,646.20 1067.60,643.99 1070.87,644.02" stroke="#000" stroke-width="1" fill="#cdc830"/><polygon points="1079.31,641.45 1080.30,645.08 1083.56,645.05 1080.91,647.26 1081.94,650.86 1079.31,648.60 1076.68,650.86 1077.72,647.26 1075.06,645.05 1078.33,645.08" stroke="#000" stroke-width="1" fill="#cdc830"/><polygon points="1089.84,642.52 1090.83,646.14 1094.09,646.11 1091.44,648.32 1092.47,651.92 1089.84,649.67 1087.21,651.92 1088.25,648.32 1085.59,646.11 1088.86,646.14" stroke="#000" stroke-width="1" fill="#cdc830"/><polygon points="1095.98,642.94 1096.97,646.56 1100.24,646.53 1097.58,648.74 1098.61,652.35 1095.98,650.09 1093.36,652.35 1094.39,648.74 1091.73,646.53 1095.00,646.56" stroke="#000" stroke-width="1" fill="#cdc830"/>
<path d="M829.5,650.2 v-2 M829.5,395.6 v2 M837.5,650.2 v-2 M837.5,395.6 v2 M843.5,650.2 v-2 M843.5,395.6 v2 M847.5,650.2 v-2 M847.5,395.6 v2 M850.5,650.2 v-2 M850.5,395.6 v2 M853.5,650.2 v-2 M853.5,395.6 v2 M856.5,650.2 v-2 M856.5,395.6 v2 M858.5,650.2 v-2 M858.5,395.6 v2 M860.5,650.2 v-4 M860.5,395.6 v4 M873.5,650.2 v-2 M873.5,395.6 v2 M881.5,650.2 v-2 M881.5,395.6 v2 M886.5,650.2 v-2 M886.5,395.6 v2 M891.5,650.2 v-2 M891.5,395.6 v2 M894.5,650.2 v-2 M894.5,395.6 v2 M897.5,650.2 v-2 M897.5,395.6 v2 M900.5,650.2 v-2 M900.5,395.6 v2 M902.5,650.2 v-2 M902.5,395.6 v2 M904.5,650.2 v-4 M904.5,395.6 v4 M917.5,650.2 v-2 M917.5,395.6 v2 M925.5,650.2 v-2 M925.5,395.6 v2 M930.5,650.2 v-2 M930.5,395.6 v2 M935.5,650.2 v-2 M935.5,395.6 v2 M938.5,650.2 v-2 M938.5,395.6 v2 M941.5,650.2 v-2 M941.5,395.6 v2 M944.5,650.2 v-2 M944.5,395.6 v2 M946.5,650.2 v-2 M946.5,395.6 v2 M948.5,650.2 v-4 M948.5,395.6 v4 M961.5,650.2 v-2 M961.5,395.6 v2 M969.5,650.2 v-2 M969.5,395.6 v2 M974.5,650.2 v-2 M974.5,395.6 v2 M978.5,650.2 v-2 M978.5,395.6 v2 M982.5,650.2 v-2 M982.5,395.6 v2 M985.5,650.2 v-2 M985.5,395.6 v2 M987.5,650.2 v-2 M987.5,395.6 v2 M990.5,650.2 v-2 M990.5,395.6 v2 M992.5,650.2 v-4 M992.5,395.6 v4 M1005.5,650.2 v-2 M1005.5,395.6 v2 M1013.5,650.2 v-2 M1013.5,395.6 v2 M1018.5,650.2 v-2 M1018.5,395.6 v2 M1022.5,650.2 v-2 M1022.5,395.6 v2 M1026.5,650.2 v-2 M1026.5,395.6 v2 M1029.5,650.2 v-2 M1029.5,395.6 v2 M1031.5,650.2 v-2 M1031.5,395.6 v2 M1034.5,650.2 v-2 M1034.5,395.6 v2 M1036.5,650.2 v-4 M1036.5,395.6 v4 M1049.5,650.2 v-2 M1049.5,395.6 v2 M1057.5,650.2 v-2 M1057.5,395.6 v2 M1062.5,650.2 v-2 M1062.5,395.6 v2 M1066.5,650.2 v-2 M1066.5,395.6 v2 M1070.5,650.2 v-2 M1070.5,395.6 v2 M1073.5,650.2 v-2 M1073.5,395.6 v2 M1075.5,650.2 v-2 M1075.5,395.6 v2 M1077.5,650.2 v-2 M1077.5,395.6 v2 M1079.5,650.2 v-4 M1079.5,395.6 v4 M1093.5,650.2 v-2 M1093.5,395.6 v2 M1100.5,650.2 v-2 M1100.5,395.6 v2 M1106.5,650.2 v-2 M1106.5,395.6 v2 M1110.5,650.2 v-2 M1110.5,395.6 v2 M1114.5,650.2 v-2 M1114.5,395.6 v2 M1117.5,650.2 v-2 M1117.5,395.6 v2 M1119.5,650.2 v-2 M1119.5,395.6 v2 M1121.5,650.2 v-2 M1121.5,395.6 v2 M1123.5,650.2 v-4 M1123.5,395.6 v4 M1137.5,650.2 v-2 M1137.5,395.6 v2 M1144.5,650.2 v-2 M1144.5,395.6 v2 M1150.5,650.2 v-2 M1150.5,395.6 v2 M1154.5,650.2 v-2 M1154.5,395.6 v2 M1157.5,650.2 v-2 M1157.5,395.6 v2 M1160.5,650.2 v-2 M1160.5,395.6 v2 M1163.5,650.2 v-2 M1163.5,395.6 v2 M1165.5,650.2 v-2 M1165.5,395.6 v2 M816.5,608.5 h4 M1167.5,608.5 h-4 M816.5,565.5 h4 M1167.5,565.5 h-4 M816.5,523.5 h4 M1167.5,523.5 h-4 M816.5,480.5 h4 M1167.5,480.5 h-4 M816.5,437.5 h4 M1167.5,437.5 h-4" stroke="#000" stroke-width="1" fill="none"/>
<rect x="816.5" y="395.6" width="351.0" height="254.6" stroke="#000" stroke-width="1.1" fill="none"/>
<g font-family="Liberation Sans, sans-serif" font-size="15.6" fill="#000"><text transform="translate(815.30,655.95) scale(0.92,1)" text-anchor="end" font-size="16">0</text><text transform="translate(815.30,613.51) scale(0.92,1)" text-anchor="end" font-size="16">2</text><text transform="translate(815.30,571.07) scale(0.92,1)" text-anchor="end" font-size="16">4</text><text transform="translate(815.30,528.62) scale(0.92,1)" text-anchor="end" font-size="16">6</text><text transform="translate(815.30,486.18) scale(0.92,1)" text-anchor="end" font-size="16">8</text><text transform="translate(815.30,443.74) scale(0.92,1)" text-anchor="end" font-size="16">10</text><text transform="translate(815.30,401.30) scale(0.92,1)" text-anchor="end" font-size="16">12</text><text transform="translate(817.30,670.85) scale(0.93,1)" text-anchor="middle" font-size="15.2">10<tspan dy="-8.6" dx="0" font-size="10.2">0</tspan></text><text transform="translate(861.17,670.85) scale(0.93,1)" text-anchor="middle" font-size="15.2">10<tspan dy="-8.6" dx="0" font-size="10.2">1</tspan></text><text transform="translate(905.05,670.85) scale(0.93,1)" text-anchor="middle" font-size="15.2">10<tspan dy="-8.6" dx="0" font-size="10.2">2</tspan></text><text transform="translate(948.92,670.85) scale(0.93,1)" text-anchor="middle" font-size="15.2">10<tspan dy="-8.6" dx="0" font-size="10.2">3</tspan></text><text transform="translate(992.80,670.85) scale(0.93,1)" text-anchor="middle" font-size="15.2">10<tspan dy="-8.6" dx="0" font-size="10.2">4</tspan></text><text transform="translate(1036.67,670.85) scale(0.93,1)" text-anchor="middle" font-size="15.2">10<tspan dy="-8.6" dx="0" font-size="10.2">5</tspan></text><text transform="translate(1080.55,670.85) scale(0.93,1)" text-anchor="middle" font-size="15.2">10<tspan dy="-8.6" dx="0" font-size="10.2">6</tspan></text><text transform="translate(1124.42,670.85) scale(0.93,1)" text-anchor="middle" font-size="15.2">10<tspan dy="-8.6" dx="0" font-size="10.2">7</tspan></text><text transform="translate(1168.30,670.85) scale(0.93,1)" text-anchor="middle" font-size="15.2">10<tspan dy="-8.6" dx="0" font-size="10.2">8</tspan></text></g>
<rect x="243.5" y="57.5" width="157" height="91.5" fill="#fff" stroke="#000" stroke-width="1"/>
<path d="M256.80,61.40 L261.20,69.80 L252.40,69.80 Z" stroke="#000" stroke-width="1" fill="#1ee01e"/>
<text x="270" y="71.8" font-family="Liberation Sans, sans-serif" font-size="15" fill="#111" textLength="72.7" lengthAdjust="spacingAndGlyphs">Incremental</text>
<path d="M256.80,79.40 L260.70,84.70 L256.80,90.00 L252.90,84.70 Z" stroke="#000" stroke-width="1" fill="#0000d0"/>
<text x="270" y="90.0" font-family="Liberation Sans, sans-serif" font-size="15" fill="#111" textLength="129.4" lengthAdjust="spacingAndGlyphs">Warmuth &amp; Kuzmin</text>
<rect x="253.80" y="99.90" width="6.00" height="6.00" stroke="#000" stroke-width="1" fill="#ee0000"/>
<text x="270" y="108.2" font-family="Liberation Sans, sans-serif" font-size="15" fill="#111" textLength="32.8" lengthAdjust="spacingAndGlyphs">MSG</text>
<polygon points="256.80,115.70 257.79,119.32 261.05,119.29 258.39,121.50 259.43,125.11 256.80,122.85 254.17,125.11 255.21,121.50 252.55,119.29 255.81,119.32" stroke="#000" stroke-width="1" fill="#cdc830"/>
<text x="270" y="126.4" font-family="Liberation Sans, sans-serif" font-size="15" fill="#111" textLength="85.3" lengthAdjust="spacingAndGlyphs">Capped MSG</text>
<path d="M256.80,143.80 L261.20,135.40 L252.40,135.40 Z" stroke="#000" stroke-width="1" fill="#dd00dd"/>
<text x="270" y="144.6" font-family="Liberation Sans, sans-serif" font-size="15" fill="#111" textLength="89.5" lengthAdjust="spacingAndGlyphs">Grassmannian</text>
<text x="226.3" y="371.8" font-family="Liberation Serif, serif" fill="#1c1c1c" font-size="25" text-anchor="middle" textLength="118.5" lengthAdjust="spacingAndGlyphs">Iterations</text>
<text x="149.3" y="714" font-family="Liberation Serif, serif" fill="#1c1c1c" font-size="25" textLength="49" lengthAdjust="spacingAndGlyphs">Est.</text>
<text x="209.2" y="714" font-family="Liberation Serif, serif" fill="#1c1c1c" font-size="25" textLength="96" lengthAdjust="spacingAndGlyphs">runtime</text>
<text x="608.2" y="371.8" font-family="Liberation Serif, serif" fill="#1c1c1c" font-size="25" text-anchor="middle" textLength="118.5" lengthAdjust="spacingAndGlyphs">Iterations</text>
<text x="531.2" y="714" font-family="Liberation Serif, serif" fill="#1c1c1c" font-size="25" textLength="49" lengthAdjust="spacingAndGlyphs">Est.</text>
<text x="591.1" y="714" font-family="Liberation Serif, serif" fill="#1c1c1c" font-size="25" textLength="96" lengthAdjust="spacingAndGlyphs">runtime</text>
<text x="990.0" y="371.8" font-family="Liberation Serif, serif" fill="#1c1c1c" font-size="25" text-anchor="middle" textLength="118.5" lengthAdjust="spacingAndGlyphs">Iterations</text>
<text x="913.0" y="714" font-family="Liberation Serif, serif" fill="#1c1c1c" font-size="25" textLength="49" lengthAdjust="spacingAndGlyphs">Est.</text>
<text x="972.9" y="714" font-family="Liberation Serif, serif" fill="#1c1c1c" font-size="25" textLength="96" lengthAdjust="spacingAndGlyphs">runtime</text>
<text transform="translate(18.3,185.3) rotate(-90)" font-family="Liberation Serif, serif" fill="#1c1c1c" font-size="25" text-anchor="middle" textLength="172.5" lengthAdjust="spacingAndGlyphs">Suboptimality</text>
<text transform="translate(18.3,527.3) rotate(-90)" font-family="Liberation Serif, serif" fill="#1c1c1c" font-size="25" text-anchor="middle" textLength="172.5" lengthAdjust="spacingAndGlyphs">Suboptimality</text>
<g transform="translate(0.00,0)" fill="#000"><path d="M186.42,1.12 L189.07,1.12 L182.71,29.31 L179.80,29.31 Z"/><rect x="183.16" y="0.98" width="5.91" height="1.03"/><path d="M185.62,18.79 Q190.77,12.08 195.69,11.99" fill="none" stroke="#000" stroke-width="0.9"/><circle cx="196.36" cy="13.96" r="1.85"/><path d="M185.0,18.79 C190.77,19.0 189.42,25.06 190.6,27.74 C191.66,30.43 195.69,29.53 197.03,23.27" fill="none" stroke="#000" stroke-width="1.9"/></g>
<rect x="214.0" y="14.5" width="26.7" height="2" fill="#000"/>
<rect x="214.0" y="22.1" width="26.7" height="2" fill="#000"/>
<text x="254.3" y="29.7" font-family="Liberation Serif, serif" fill="#1c1c1c" font-size="41">1</text>
<g transform="translate(381.70,0)" fill="#000"><path d="M186.42,1.12 L189.07,1.12 L182.71,29.31 L179.80,29.31 Z"/><rect x="183.16" y="0.98" width="5.91" height="1.03"/><path d="M185.62,18.79 Q190.77,12.08 195.69,11.99" fill="none" stroke="#000" stroke-width="0.9"/><circle cx="196.36" cy="13.96" r="1.85"/><path d="M185.0,18.79 C190.77,19.0 189.42,25.06 190.6,27.74 C191.66,30.43 195.69,29.53 197.03,23.27" fill="none" stroke="#000" stroke-width="1.9"/></g>
<rect x="596.6" y="14.5" width="26.7" height="2" fill="#000"/>
<rect x="596.6" y="22.1" width="26.7" height="2" fill="#000"/>
<text x="636.9" y="29.7" font-family="Liberation Serif, serif" fill="#1c1c1c" font-size="41">4</text>
<g transform="translate(763.40,0)" fill="#000"><path d="M186.42,1.12 L189.07,1.12 L182.71,29.31 L179.80,29.31 Z"/><rect x="183.16" y="0.98" width="5.91" height="1.03"/><path d="M185.62,18.79 Q190.77,12.08 195.69,11.99" fill="none" stroke="#000" stroke-width="0.9"/><circle cx="196.36" cy="13.96" r="1.85"/><path d="M185.0,18.79 C190.77,19.0 189.42,25.06 190.6,27.74 C191.66,30.43 195.69,29.53 197.03,23.27" fill="none" stroke="#000" stroke-width="1.9"/></g>
<rect x="978.3" y="14.5" width="26.7" height="2" fill="#000"/>
<rect x="978.3" y="22.1" width="26.7" height="2" fill="#000"/>
<text x="1018.6" y="29.7" font-family="Liberation Serif, serif" fill="#1c1c1c" font-size="41">8</text>
</svg></body></html>
